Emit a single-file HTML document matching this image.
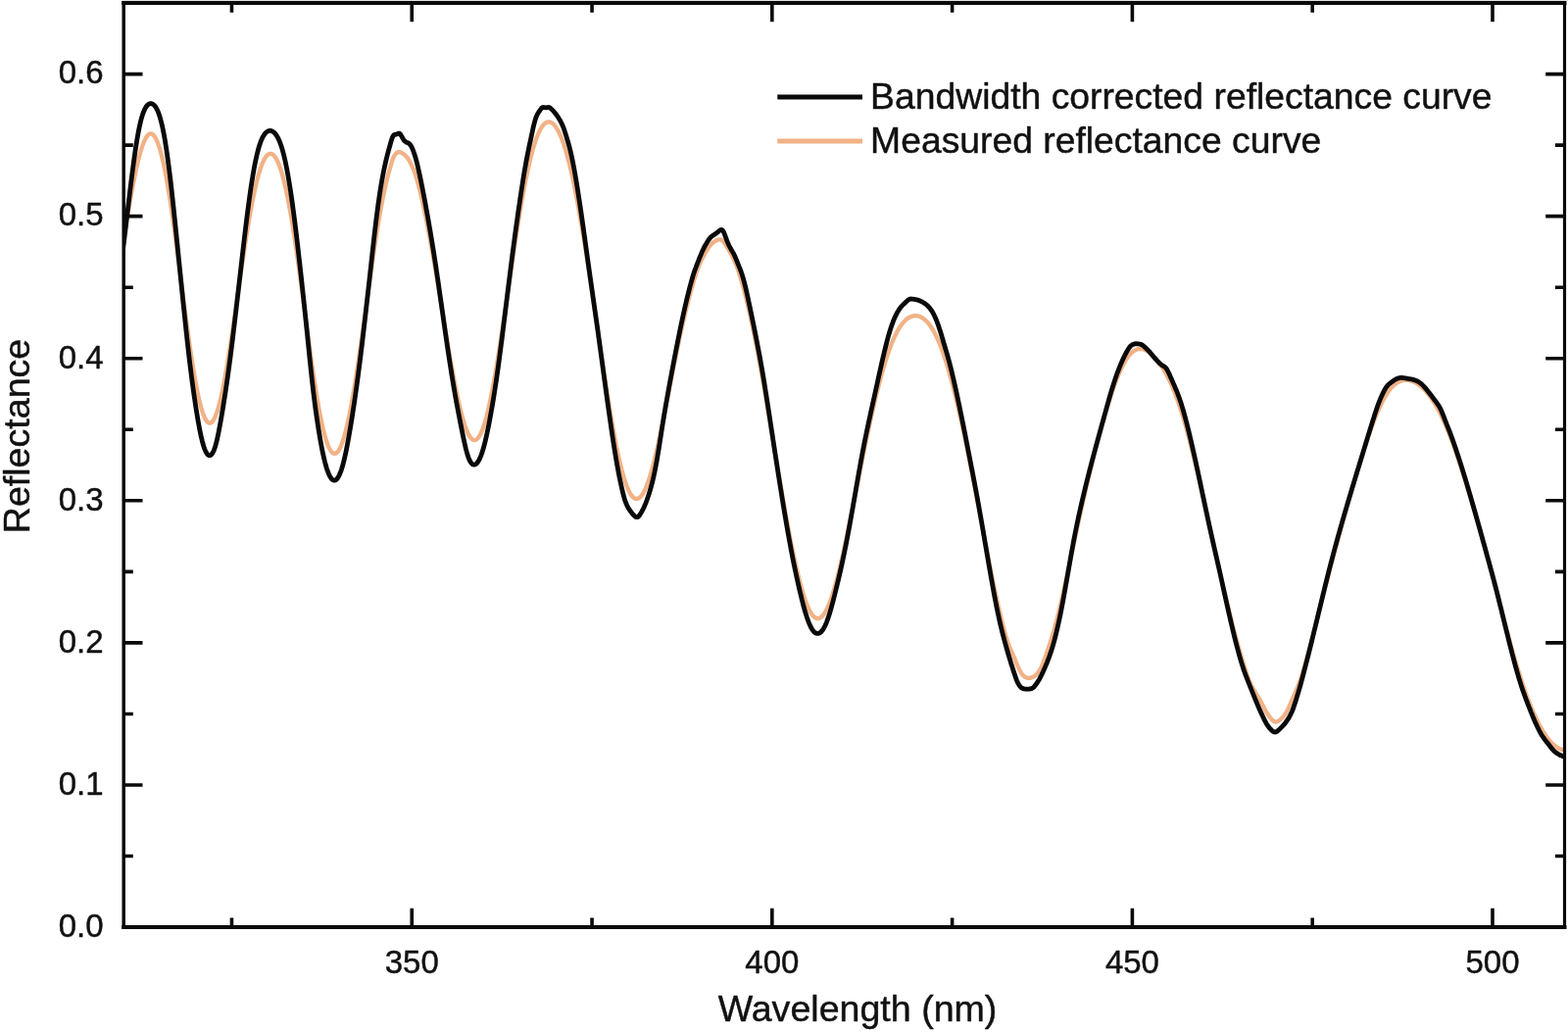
<!DOCTYPE html>
<html lang="en"><head><meta charset="utf-8"><title>Reflectance curves</title>
<style>
html,body{margin:0;padding:0;background:#fff;}
body{width:1600px;height:1053px;overflow:hidden;}
svg{display:block;}
text{font-family:"Liberation Sans",Arial,Helvetica,sans-serif;fill:#111;stroke:#111;stroke-width:0.45px;stroke-linejoin:round;}
.tick{font-size:33px;}
.title{font-size:37.6px;}
.leg{font-size:37.3px;}
</style></head><body>
<svg width="1600" height="1053" viewBox="0 0 1600 1053" role="img" aria-label="Reflectance versus wavelength">

<defs><clipPath id="plot"><rect x="126.2" y="3.05" width="1470.3" height="943.0"/></clipPath>
<filter id="soft" x="0" y="0" width="1600" height="1053" filterUnits="userSpaceOnUse" color-interpolation-filters="sRGB"><feGaussianBlur stdDeviation="0.45"/></filter></defs>
<g filter="url(#soft)">
<rect width="1600" height="1053" fill="#fff"/>
<g clip-path="url(#plot)" fill="none" stroke-linejoin="round" stroke-linecap="butt">
<path d="M118.3,285.0 L118.8,282.6 L119.3,280.2 L119.8,277.7 L120.3,275.2 L120.8,272.7 L121.3,270.1 L121.8,267.4 L122.3,264.7 L122.8,262.0 L123.3,259.3 L123.8,256.5 L124.3,253.7 L124.8,250.8 L125.3,248.0 L125.8,245.1 L126.3,242.2 L126.8,239.3 L127.3,236.4 L127.8,233.5 L128.3,230.6 L128.8,227.7 L129.3,224.7 L129.8,221.8 L130.3,218.9 L130.8,216.0 L131.3,213.2 L131.8,210.3 L132.3,207.5 L132.8,204.6 L133.3,201.9 L133.8,199.1 L134.3,196.4 L134.8,193.7 L135.3,191.0 L135.8,188.4 L136.3,185.8 L136.8,183.3 L137.3,180.8 L137.8,178.3 L138.3,176.0 L138.8,173.6 L139.3,171.3 L139.8,169.1 L140.3,166.9 L140.8,164.8 L141.3,162.8 L141.8,160.8 L142.3,158.9 L142.8,157.1 L143.3,155.3 L143.8,153.6 L144.3,152.0 L144.8,150.4 L145.3,148.9 L145.8,147.5 L146.3,146.2 L146.8,145.0 L147.3,143.8 L147.8,142.7 L148.3,141.7 L148.8,140.8 L149.3,140.0 L149.8,139.2 L150.3,138.6 L150.8,138.0 L151.3,137.5 L151.8,137.1 L152.3,136.8 L152.8,136.6 L153.3,136.4 L153.8,136.4 L154.3,136.5 L154.8,136.6 L155.3,136.8 L155.8,137.1 L156.3,137.6 L156.8,138.1 L157.3,138.7 L157.8,139.3 L158.3,140.1 L158.8,141.0 L159.3,141.9 L159.8,143.0 L160.3,144.1 L160.8,145.4 L161.3,146.7 L161.8,148.1 L162.3,149.6 L162.8,151.1 L163.3,152.8 L163.8,154.5 L164.3,156.4 L164.8,158.3 L165.3,160.3 L165.8,162.4 L166.3,164.5 L166.8,166.8 L167.3,169.1 L167.8,171.5 L168.3,174.0 L168.8,176.5 L169.3,179.1 L169.8,181.8 L170.3,184.6 L170.8,187.4 L171.3,190.3 L171.8,193.3 L172.3,196.3 L172.8,199.4 L173.3,202.6 L173.8,205.8 L174.3,209.0 L174.8,212.4 L175.3,215.7 L175.8,219.2 L176.3,222.6 L176.8,226.2 L177.3,229.7 L177.8,233.3 L178.3,236.9 L178.8,240.6 L179.3,244.3 L179.8,248.1 L180.3,251.8 L180.8,255.6 L181.3,259.4 L181.8,263.3 L182.3,267.1 L182.8,271.0 L183.3,274.8 L183.8,278.7 L184.3,282.6 L184.8,286.5 L185.3,290.4 L185.8,294.3 L186.3,298.2 L186.8,302.0 L187.3,305.9 L187.8,309.8 L188.3,313.6 L188.8,317.4 L189.3,321.2 L189.8,325.0 L190.3,328.7 L190.8,332.4 L191.3,336.1 L191.8,339.7 L192.3,343.3 L192.8,346.9 L193.3,350.4 L193.8,353.9 L194.3,357.3 L194.8,360.7 L195.3,364.0 L195.8,367.3 L196.3,370.5 L196.8,373.6 L197.3,376.7 L197.8,379.7 L198.3,382.7 L198.8,385.6 L199.3,388.4 L199.8,391.2 L200.3,393.8 L200.8,396.4 L201.3,398.9 L201.8,401.4 L202.3,403.7 L202.8,406.0 L203.3,408.2 L203.8,410.3 L204.3,412.3 L204.8,414.2 L205.3,416.0 L205.8,417.7 L206.3,419.4 L206.8,420.9 L207.3,422.3 L207.8,423.7 L208.3,424.9 L208.8,426.1 L209.3,427.1 L209.8,428.0 L210.3,428.8 L210.8,429.6 L211.3,430.2 L211.8,430.7 L212.3,431.1 L212.8,431.4 L213.3,431.6 L213.8,431.7 L214.3,431.7 L214.8,431.6 L215.3,431.3 L215.8,431.0 L216.3,430.6 L216.8,430.0 L217.3,429.4 L217.8,428.6 L218.3,427.8 L218.8,426.9 L219.3,425.8 L219.8,424.7 L220.3,423.4 L220.8,422.1 L221.3,420.7 L221.8,419.2 L222.3,417.6 L222.8,415.9 L223.3,414.1 L223.8,412.2 L224.3,410.3 L224.8,408.3 L225.3,406.2 L225.8,404.0 L226.3,401.7 L226.8,399.4 L227.3,397.0 L227.8,394.5 L228.3,392.0 L228.8,389.4 L229.3,386.8 L229.8,384.0 L230.3,381.2 L230.8,378.4 L231.3,375.5 L231.8,372.6 L232.3,369.6 L232.8,366.5 L233.3,363.5 L233.8,360.3 L234.3,357.2 L234.8,354.0 L235.3,350.7 L235.8,347.4 L236.3,344.1 L236.8,340.8 L237.3,337.4 L237.8,334.0 L238.3,330.6 L238.8,327.2 L239.3,323.7 L239.8,320.3 L240.3,316.8 L240.8,313.3 L241.3,309.8 L241.8,306.3 L242.3,302.8 L242.8,299.3 L243.3,295.8 L243.8,292.3 L244.3,288.8 L244.8,285.3 L245.3,281.8 L245.8,278.4 L246.3,274.9 L246.8,271.5 L247.3,268.1 L247.8,264.7 L248.3,261.3 L248.8,257.9 L249.3,254.6 L249.8,251.3 L250.3,248.1 L250.8,244.9 L251.3,241.7 L251.8,238.5 L252.3,235.4 L252.8,232.4 L253.3,229.3 L253.8,226.4 L254.3,223.4 L254.8,220.6 L255.3,217.7 L255.8,214.9 L256.3,212.2 L256.8,209.5 L257.3,206.9 L257.8,204.4 L258.3,201.9 L258.8,199.4 L259.3,197.0 L259.8,194.7 L260.3,192.5 L260.8,190.3 L261.3,188.1 L261.8,186.1 L262.3,184.1 L262.8,182.1 L263.3,180.3 L263.8,178.5 L264.3,176.7 L264.8,175.1 L265.3,173.5 L265.8,172.0 L266.3,170.5 L266.8,169.1 L267.3,167.8 L267.8,166.6 L268.3,165.4 L268.8,164.3 L269.3,163.3 L269.8,162.4 L270.3,161.5 L270.8,160.7 L271.3,160.0 L271.8,159.3 L272.3,158.8 L272.8,158.3 L273.3,157.8 L273.8,157.5 L274.3,157.2 L274.8,157.0 L275.3,156.9 L275.8,156.8 L276.3,156.8 L276.8,156.9 L277.3,157.1 L277.8,157.3 L278.3,157.6 L278.8,158.0 L279.3,158.5 L279.8,159.0 L280.3,159.6 L280.8,160.3 L281.3,161.1 L281.8,161.9 L282.3,162.8 L282.8,163.8 L283.3,164.8 L283.8,165.9 L284.3,167.1 L284.8,168.4 L285.3,169.7 L285.8,171.2 L286.3,172.6 L286.8,174.2 L287.3,175.8 L287.8,177.5 L288.3,179.3 L288.8,181.1 L289.3,183.0 L289.8,185.0 L290.3,187.0 L290.8,189.1 L291.3,191.3 L291.8,193.5 L292.3,195.9 L292.8,198.2 L293.3,200.7 L293.8,203.2 L294.3,205.7 L294.8,208.4 L295.3,211.0 L295.8,213.8 L296.3,216.6 L296.8,219.5 L297.3,222.4 L297.8,225.4 L298.3,228.4 L298.8,231.5 L299.3,234.6 L299.8,237.8 L300.3,241.0 L300.8,244.3 L301.3,247.6 L301.8,251.0 L302.3,254.4 L302.8,257.8 L303.3,261.3 L303.8,264.8 L304.3,268.4 L304.8,272.0 L305.3,275.6 L305.8,279.2 L306.3,282.9 L306.8,286.6 L307.3,290.3 L307.8,294.0 L308.3,297.7 L308.8,301.5 L309.3,305.3 L309.8,309.0 L310.3,312.8 L310.8,316.6 L311.3,320.4 L311.8,324.1 L312.3,327.9 L312.8,331.7 L313.3,335.4 L313.8,339.1 L314.3,342.9 L314.8,346.6 L315.3,350.3 L315.8,353.9 L316.3,357.6 L316.8,361.2 L317.3,364.8 L317.8,368.3 L318.3,371.8 L318.8,375.3 L319.3,378.7 L319.8,382.1 L320.3,385.5 L320.8,388.8 L321.3,392.0 L321.8,395.2 L322.3,398.4 L322.8,401.5 L323.3,404.5 L323.8,407.5 L324.3,410.4 L324.8,413.3 L325.3,416.0 L325.8,418.8 L326.3,421.4 L326.8,424.0 L327.3,426.5 L327.8,429.0 L328.3,431.3 L328.8,433.6 L329.3,435.8 L329.8,437.9 L330.3,440.0 L330.8,442.0 L331.3,443.9 L331.8,445.7 L332.3,447.4 L332.8,449.0 L333.3,450.5 L333.8,452.0 L334.3,453.4 L334.8,454.6 L335.3,455.8 L335.8,456.9 L336.3,457.9 L336.8,458.8 L337.3,459.6 L337.8,460.4 L338.3,461.0 L338.8,461.5 L339.3,462.0 L339.8,462.3 L340.3,462.6 L340.8,462.7 L341.3,462.8 L341.8,462.8 L342.3,462.7 L342.8,462.4 L343.3,462.1 L343.8,461.7 L344.3,461.2 L344.8,460.7 L345.3,460.0 L345.8,459.2 L346.3,458.4 L346.8,457.4 L347.3,456.4 L347.8,455.3 L348.3,454.1 L348.8,452.8 L349.3,451.4 L349.8,450.0 L350.3,448.5 L350.8,446.8 L351.3,445.2 L351.8,443.4 L352.3,441.5 L352.8,439.6 L353.3,437.6 L353.8,435.6 L354.3,433.4 L354.8,431.2 L355.3,429.0 L355.8,426.6 L356.3,424.2 L356.8,421.7 L357.3,419.2 L357.8,416.6 L358.3,414.0 L358.8,411.3 L359.3,408.5 L359.8,405.7 L360.3,402.8 L360.8,399.9 L361.3,396.9 L361.8,393.9 L362.3,390.8 L362.8,387.7 L363.3,384.5 L363.8,381.3 L364.3,378.1 L364.8,374.8 L365.3,371.5 L365.8,368.1 L366.3,364.8 L366.8,361.4 L367.3,357.9 L367.8,354.5 L368.3,351.0 L368.8,347.4 L369.3,343.9 L369.8,340.4 L370.3,336.8 L370.8,333.2 L371.3,329.6 L371.8,326.0 L372.3,322.4 L372.8,318.8 L373.3,315.1 L373.8,311.5 L374.3,307.9 L374.8,304.2 L375.3,300.6 L375.8,297.0 L376.3,293.4 L376.8,289.8 L377.3,286.2 L377.8,282.6 L378.3,279.1 L378.8,275.6 L379.3,272.0 L379.8,268.5 L380.3,265.1 L380.8,261.6 L381.3,258.2 L381.8,254.9 L382.3,251.5 L382.8,248.2 L383.3,244.9 L383.8,241.7 L384.3,238.5 L384.8,235.4 L385.3,232.3 L385.8,229.2 L386.3,226.2 L386.8,223.2 L387.3,220.3 L387.8,217.5 L388.3,214.7 L388.8,211.9 L389.3,209.2 L389.8,206.6 L390.3,204.0 L390.8,201.5 L391.3,199.0 L391.8,196.6 L392.3,194.3 L392.8,192.0 L393.3,189.8 L393.8,187.6 L394.3,185.5 L394.8,183.5 L395.3,181.5 L395.8,179.6 L396.3,177.6 L396.8,175.8 L397.3,173.9 L397.8,172.1 L398.3,170.3 L398.8,168.6 L399.3,166.9 L399.8,165.3 L400.3,163.8 L400.8,162.4 L401.3,161.2 L401.8,160.0 L402.3,159.0 L402.8,158.2 L403.3,157.5 L403.8,156.9 L404.3,156.4 L404.8,156.0 L405.3,155.7 L405.8,155.4 L406.3,155.2 L406.8,155.1 L407.3,155.1 L407.8,155.1 L408.3,155.2 L408.8,155.4 L409.3,155.6 L409.8,155.9 L410.3,156.2 L410.8,156.5 L411.3,156.9 L411.8,157.2 L412.3,157.6 L412.8,158.0 L413.3,158.5 L413.8,158.9 L414.3,159.4 L414.8,159.9 L415.3,160.5 L415.8,161.1 L416.3,161.8 L416.8,162.5 L417.3,163.4 L417.8,164.3 L418.3,165.2 L418.8,166.2 L419.3,167.2 L419.8,168.2 L420.3,169.3 L420.8,170.4 L421.3,171.6 L421.8,172.7 L422.3,174.0 L422.8,175.3 L423.3,176.7 L423.8,178.1 L424.3,179.6 L424.8,181.2 L425.3,182.8 L425.8,184.6 L426.3,186.3 L426.8,188.1 L427.3,190.0 L427.8,191.9 L428.3,193.8 L428.8,195.8 L429.3,197.9 L429.8,199.9 L430.3,202.1 L430.8,204.2 L431.3,206.4 L431.8,208.7 L432.3,210.9 L432.8,213.3 L433.3,215.6 L433.8,218.0 L434.3,220.4 L434.8,222.9 L435.3,225.4 L435.8,227.9 L436.3,230.5 L436.8,233.1 L437.3,235.7 L437.8,238.3 L438.3,241.0 L438.8,243.7 L439.3,246.4 L439.8,249.2 L440.3,252.0 L440.8,254.8 L441.3,257.6 L441.8,260.5 L442.3,263.4 L442.8,266.2 L443.3,269.2 L443.8,272.1 L444.3,275.0 L444.8,278.0 L445.3,281.0 L445.8,284.0 L446.3,287.0 L446.8,290.0 L447.3,293.0 L447.8,296.0 L448.3,299.1 L448.8,302.1 L449.3,305.2 L449.8,308.2 L450.3,311.3 L450.8,314.3 L451.3,317.4 L451.8,320.4 L452.3,323.5 L452.8,326.5 L453.3,329.6 L453.8,332.6 L454.3,335.6 L454.8,338.7 L455.3,341.7 L455.8,344.7 L456.3,347.6 L456.8,350.6 L457.3,353.6 L457.8,356.5 L458.3,359.4 L458.8,362.3 L459.3,365.2 L459.8,368.0 L460.3,370.8 L460.8,373.6 L461.3,376.4 L461.8,379.1 L462.3,381.9 L462.8,384.5 L463.3,387.2 L463.8,389.8 L464.3,392.4 L464.8,394.9 L465.3,397.4 L465.8,399.9 L466.3,402.3 L466.8,404.6 L467.3,407.0 L467.8,409.2 L468.3,411.5 L468.8,413.6 L469.3,415.8 L469.8,417.8 L470.3,419.9 L470.8,421.8 L471.3,423.7 L471.8,425.6 L472.3,427.4 L472.8,429.1 L473.3,430.7 L473.8,432.3 L474.3,433.9 L474.8,435.3 L475.3,436.7 L475.8,438.1 L476.3,439.3 L476.8,440.5 L477.3,441.6 L477.8,442.7 L478.3,443.6 L478.8,444.5 L479.3,445.3 L479.8,446.1 L480.3,446.7 L480.8,447.3 L481.3,447.8 L481.8,448.2 L482.3,448.6 L482.8,448.8 L483.3,449.0 L483.8,449.1 L484.3,449.1 L484.8,449.0 L485.3,448.9 L485.8,448.6 L486.3,448.3 L486.8,447.9 L487.3,447.5 L487.8,446.9 L488.3,446.3 L488.8,445.5 L489.3,444.7 L489.8,443.9 L490.3,442.9 L490.8,441.9 L491.3,440.7 L491.8,439.5 L492.3,438.3 L492.8,436.9 L493.3,435.5 L493.8,434.0 L494.3,432.4 L494.8,430.8 L495.3,429.1 L495.8,427.3 L496.3,425.5 L496.8,423.5 L497.3,421.6 L497.8,419.5 L498.3,417.4 L498.8,415.2 L499.3,413.0 L499.8,410.7 L500.3,408.3 L500.8,405.9 L501.3,403.4 L501.8,400.9 L502.3,398.3 L502.8,395.7 L503.3,393.0 L503.8,390.3 L504.3,387.5 L504.8,384.7 L505.3,381.9 L505.8,378.9 L506.3,376.0 L506.8,373.0 L507.3,370.0 L507.8,366.9 L508.3,363.8 L508.8,360.7 L509.3,357.5 L509.8,354.4 L510.3,351.1 L510.8,347.9 L511.3,344.6 L511.8,341.3 L512.3,338.0 L512.8,334.7 L513.3,331.3 L513.8,328.0 L514.3,324.6 L514.8,321.2 L515.3,317.8 L515.8,314.4 L516.3,310.9 L516.8,307.5 L517.3,304.1 L517.8,300.6 L518.3,297.2 L518.8,293.7 L519.3,290.3 L519.8,286.8 L520.3,283.4 L520.8,280.0 L521.3,276.6 L521.8,273.1 L522.3,269.8 L522.8,266.4 L523.3,263.0 L523.8,259.6 L524.3,256.3 L524.8,253.0 L525.3,249.7 L525.8,246.4 L526.3,243.1 L526.8,239.9 L527.3,236.7 L527.8,233.5 L528.3,230.3 L528.8,227.2 L529.3,224.1 L529.8,221.1 L530.3,218.0 L530.8,215.0 L531.3,212.1 L531.8,209.1 L532.3,206.3 L532.8,203.4 L533.3,200.6 L533.8,197.8 L534.3,195.1 L534.8,192.4 L535.3,189.8 L535.8,187.2 L536.3,184.6 L536.8,182.1 L537.3,179.7 L537.8,177.3 L538.3,174.9 L538.8,172.6 L539.3,170.3 L539.8,168.1 L540.3,166.0 L540.8,163.9 L541.3,161.8 L541.8,159.8 L542.3,157.9 L542.8,156.0 L543.3,154.1 L543.8,152.3 L544.3,150.6 L544.8,148.9 L545.3,147.3 L545.8,145.7 L546.3,144.2 L546.8,142.8 L547.3,141.4 L547.8,140.0 L548.3,138.8 L548.8,137.5 L549.3,136.4 L549.8,135.2 L550.3,134.2 L550.8,133.2 L551.3,132.2 L551.8,131.3 L552.3,130.5 L552.8,129.7 L553.3,129.0 L553.8,128.3 L554.3,127.7 L554.8,127.1 L555.3,126.6 L555.8,126.2 L556.3,125.8 L556.8,125.4 L557.3,125.1 L557.8,124.9 L558.3,124.7 L558.8,124.5 L559.3,124.4 L559.8,124.4 L560.3,124.4 L560.8,124.5 L561.3,124.6 L561.8,124.8 L562.3,125.0 L562.8,125.2 L563.3,125.5 L563.8,125.9 L564.3,126.3 L564.8,126.8 L565.3,127.3 L565.8,127.8 L566.3,128.4 L566.8,129.1 L567.3,129.8 L567.8,130.5 L568.3,131.3 L568.8,132.2 L569.3,133.1 L569.8,134.0 L570.3,135.0 L570.8,136.0 L571.3,137.1 L571.8,138.2 L572.3,139.4 L572.8,140.6 L573.3,141.9 L573.8,143.2 L574.3,144.6 L574.8,146.0 L575.3,147.4 L575.8,148.9 L576.3,150.5 L576.8,152.1 L577.3,153.7 L577.8,155.4 L578.3,157.1 L578.8,158.9 L579.3,160.7 L579.8,162.6 L580.3,164.5 L580.8,166.5 L581.3,168.5 L581.8,170.5 L582.3,172.6 L582.8,174.8 L583.3,176.9 L583.8,179.2 L584.3,181.4 L584.8,183.7 L585.3,186.1 L585.8,188.5 L586.3,190.9 L586.8,193.4 L587.3,195.9 L587.8,198.5 L588.3,201.1 L588.8,203.7 L589.3,206.4 L589.8,209.1 L590.3,211.8 L590.8,214.6 L591.3,217.4 L591.8,220.2 L592.3,223.1 L592.8,226.0 L593.3,228.9 L593.8,231.9 L594.3,234.9 L594.8,237.9 L595.3,241.0 L595.8,244.0 L596.3,247.1 L596.8,250.2 L597.3,253.4 L597.8,256.6 L598.3,259.7 L598.8,263.0 L599.3,266.2 L599.8,269.4 L600.3,272.7 L600.8,276.0 L601.3,279.3 L601.8,282.6 L602.3,285.9 L602.8,289.2 L603.3,292.6 L603.8,295.9 L604.3,299.3 L604.8,302.7 L605.3,306.1 L605.8,309.5 L606.3,312.9 L606.8,316.3 L607.3,319.7 L607.8,323.1 L608.3,326.5 L608.8,329.9 L609.3,333.3 L609.8,336.7 L610.3,340.1 L610.8,343.5 L611.3,346.9 L611.8,350.3 L612.3,353.7 L612.8,357.1 L613.3,360.5 L613.8,363.8 L614.3,367.2 L614.8,370.5 L615.3,373.8 L615.8,377.1 L616.3,380.4 L616.8,383.7 L617.3,387.0 L617.8,390.2 L618.3,393.4 L618.8,396.6 L619.3,399.8 L619.8,403.0 L620.3,406.1 L620.8,409.2 L621.3,412.3 L621.8,415.3 L622.3,418.4 L622.8,421.4 L623.3,424.3 L623.8,427.2 L624.3,430.1 L624.8,433.0 L625.3,435.8 L625.8,438.6 L626.3,441.3 L626.8,444.0 L627.3,446.7 L627.8,449.3 L628.3,451.8 L628.8,454.4 L629.3,456.9 L629.8,459.3 L630.3,461.7 L630.8,464.0 L631.3,466.3 L631.8,468.5 L632.3,470.7 L632.8,472.8 L633.3,474.9 L633.8,476.9 L634.3,478.9 L634.8,480.8 L635.3,482.6 L635.8,484.4 L636.3,486.1 L636.8,487.8 L637.3,489.4 L637.8,491.0 L638.3,492.5 L638.8,493.9 L639.3,495.3 L639.8,496.6 L640.3,497.8 L640.8,499.0 L641.3,500.1 L641.8,501.1 L642.3,502.1 L642.8,503.0 L643.3,503.9 L643.8,504.7 L644.3,505.4 L644.8,506.0 L645.3,506.6 L645.8,507.2 L646.3,507.6 L646.8,508.0 L647.3,508.3 L647.8,508.6 L648.3,508.8 L648.8,508.9 L649.3,509.0 L649.8,509.0 L650.3,508.9 L650.8,508.8 L651.3,508.6 L651.8,508.4 L652.3,508.0 L652.8,507.6 L653.3,507.2 L653.8,506.7 L654.3,506.1 L654.8,505.5 L655.3,504.8 L655.8,504.0 L656.3,503.2 L656.8,502.3 L657.3,501.4 L657.8,500.4 L658.3,499.3 L658.8,498.2 L659.3,497.0 L659.8,495.8 L660.3,494.5 L660.8,493.2 L661.3,491.8 L661.8,490.4 L662.3,488.9 L662.8,487.3 L663.3,485.7 L663.8,484.1 L664.3,482.4 L664.8,480.7 L665.3,478.9 L665.8,477.1 L666.3,475.2 L666.8,473.3 L667.3,471.3 L667.8,469.4 L668.3,467.3 L668.8,465.3 L669.3,463.2 L669.8,461.0 L670.3,458.8 L670.8,456.6 L671.3,454.4 L671.8,452.2 L672.3,449.9 L672.8,447.5 L673.3,445.2 L673.8,442.8 L674.3,440.5 L674.8,438.1 L675.3,435.6 L675.8,433.2 L676.3,430.7 L676.8,428.2 L677.3,425.8 L677.8,423.3 L678.3,420.7 L678.8,418.2 L679.3,415.7 L679.8,413.1 L680.3,410.6 L680.8,408.0 L681.3,405.5 L681.8,402.9 L682.3,400.4 L682.8,397.8 L683.3,395.3 L683.8,392.7 L684.3,390.1 L684.8,387.6 L685.3,385.1 L685.8,382.5 L686.3,380.0 L686.8,377.5 L687.3,374.9 L687.8,372.4 L688.3,369.9 L688.8,367.5 L689.3,365.0 L689.8,362.5 L690.3,360.1 L690.8,357.7 L691.3,355.2 L691.8,352.8 L692.3,350.5 L692.8,348.1 L693.3,345.7 L693.8,343.4 L694.3,341.1 L694.8,338.8 L695.3,336.5 L695.8,334.3 L696.3,332.0 L696.8,329.8 L697.3,327.6 L697.8,325.4 L698.3,323.3 L698.8,321.2 L699.3,319.1 L699.8,317.0 L700.3,314.9 L700.8,312.9 L701.3,310.9 L701.8,308.9 L702.3,306.9 L702.8,305.0 L703.3,303.1 L703.8,301.2 L704.3,299.3 L704.8,297.5 L705.3,295.7 L705.8,293.9 L706.3,292.1 L706.8,290.4 L707.3,288.7 L707.8,287.0 L708.3,285.4 L708.8,283.8 L709.3,282.2 L709.8,280.6 L710.3,279.1 L710.8,277.6 L711.3,276.2 L711.8,274.8 L712.3,273.4 L712.8,272.1 L713.3,270.9 L713.8,269.7 L714.3,268.5 L714.8,267.4 L715.3,266.4 L715.8,265.4 L716.3,264.4 L716.8,263.4 L717.3,262.5 L717.8,261.6 L718.3,260.7 L718.8,259.7 L719.3,258.8 L719.8,257.9 L720.3,257.0 L720.8,256.1 L721.3,255.3 L721.8,254.4 L722.3,253.6 L722.8,252.8 L723.3,252.1 L723.8,251.5 L724.3,250.8 L724.8,250.2 L725.3,249.7 L725.8,249.2 L726.3,248.7 L726.8,248.2 L727.3,247.8 L727.8,247.4 L728.3,247.0 L728.8,246.7 L729.3,246.4 L729.8,246.1 L730.3,245.8 L730.8,245.5 L731.3,245.2 L731.8,245.0 L732.3,244.8 L732.8,244.6 L733.3,244.5 L733.8,244.4 L734.3,244.3 L734.8,244.3 L735.3,244.4 L735.8,244.6 L736.3,244.8 L736.8,245.2 L737.3,245.6 L737.8,246.1 L738.3,246.7 L738.8,247.4 L739.3,248.1 L739.8,248.8 L740.3,249.6 L740.8,250.4 L741.3,251.2 L741.8,252.0 L742.3,252.8 L742.8,253.6 L743.3,254.5 L743.8,255.3 L744.3,256.2 L744.8,257.1 L745.3,258.0 L745.8,258.9 L746.3,259.8 L746.8,260.7 L747.3,261.7 L747.8,262.7 L748.3,263.7 L748.8,264.7 L749.3,265.8 L749.8,266.9 L750.3,268.1 L750.8,269.3 L751.3,270.6 L751.8,271.9 L752.3,273.2 L752.8,274.6 L753.3,276.0 L753.8,277.5 L754.3,279.1 L754.8,280.6 L755.3,282.3 L755.8,283.9 L756.3,285.6 L756.8,287.3 L757.3,289.1 L757.8,290.8 L758.3,292.7 L758.8,294.5 L759.3,296.4 L759.8,298.3 L760.3,300.2 L760.8,302.2 L761.3,304.2 L761.8,306.2 L762.3,308.3 L762.8,310.3 L763.3,312.5 L763.8,314.6 L764.3,316.8 L764.8,319.0 L765.3,321.2 L765.8,323.4 L766.3,325.7 L766.8,328.0 L767.3,330.3 L767.8,332.7 L768.3,335.1 L768.8,337.5 L769.3,339.9 L769.8,342.4 L770.3,344.8 L770.8,347.3 L771.3,349.9 L771.8,352.4 L772.3,355.0 L772.8,357.6 L773.3,360.2 L773.8,362.8 L774.3,365.5 L774.8,368.2 L775.3,370.9 L775.8,373.6 L776.3,376.3 L776.8,379.1 L777.3,381.9 L777.8,384.7 L778.3,387.5 L778.8,390.3 L779.3,393.1 L779.8,396.0 L780.3,398.8 L780.8,401.7 L781.3,404.6 L781.8,407.5 L782.3,410.4 L782.8,413.4 L783.3,416.3 L783.8,419.2 L784.3,422.2 L784.8,425.2 L785.3,428.1 L785.8,431.1 L786.3,434.1 L786.8,437.1 L787.3,440.1 L787.8,443.1 L788.3,446.1 L788.8,449.1 L789.3,452.1 L789.8,455.1 L790.3,458.1 L790.8,461.1 L791.3,464.1 L791.8,467.1 L792.3,470.1 L792.8,473.0 L793.3,476.0 L793.8,479.0 L794.3,482.0 L794.8,484.9 L795.3,487.9 L795.8,490.8 L796.3,493.8 L796.8,496.7 L797.3,499.6 L797.8,502.5 L798.3,505.4 L798.8,508.3 L799.3,511.1 L799.8,514.0 L800.3,516.8 L800.8,519.6 L801.3,522.4 L801.8,525.2 L802.3,528.0 L802.8,530.7 L803.3,533.4 L803.8,536.1 L804.3,538.8 L804.8,541.5 L805.3,544.1 L805.8,546.7 L806.3,549.3 L806.8,551.8 L807.3,554.4 L807.8,556.9 L808.3,559.3 L808.8,561.8 L809.3,564.2 L809.8,566.6 L810.3,568.9 L810.8,571.2 L811.3,573.5 L811.8,575.8 L812.3,578.0 L812.8,580.2 L813.3,582.3 L813.8,584.5 L814.3,586.5 L814.8,588.6 L815.3,590.6 L815.8,592.5 L816.3,594.5 L816.8,596.3 L817.3,598.2 L817.8,600.0 L818.3,601.7 L818.8,603.4 L819.3,605.1 L819.8,606.7 L820.3,608.3 L820.8,609.8 L821.3,611.3 L821.8,612.7 L822.3,614.1 L822.8,615.4 L823.3,616.7 L823.8,617.9 L824.3,619.1 L824.8,620.2 L825.3,621.3 L825.8,622.3 L826.3,623.3 L826.8,624.2 L827.3,625.0 L827.8,625.8 L828.3,626.6 L828.8,627.2 L829.3,627.9 L829.8,628.4 L830.3,629.0 L830.8,629.4 L831.3,629.8 L831.8,630.2 L832.3,630.4 L832.8,630.7 L833.3,630.8 L833.8,630.9 L834.3,631.0 L834.8,631.0 L835.3,630.9 L835.8,630.8 L836.3,630.6 L836.8,630.4 L837.3,630.1 L837.8,629.8 L838.3,629.3 L838.8,628.9 L839.3,628.4 L839.8,627.8 L840.3,627.2 L840.8,626.5 L841.3,625.7 L841.8,624.9 L842.3,624.1 L842.8,623.2 L843.3,622.3 L843.8,621.3 L844.3,620.2 L844.8,619.1 L845.3,618.0 L845.8,616.8 L846.3,615.5 L846.8,614.2 L847.3,612.9 L847.8,611.5 L848.3,610.1 L848.8,608.6 L849.3,607.1 L849.8,605.5 L850.3,603.9 L850.8,602.3 L851.3,600.6 L851.8,598.9 L852.3,597.2 L852.8,595.4 L853.3,593.5 L853.8,591.7 L854.3,589.8 L854.8,587.9 L855.3,585.9 L855.8,583.9 L856.3,581.9 L856.8,579.9 L857.3,577.8 L857.8,575.7 L858.3,573.5 L858.8,571.4 L859.3,569.2 L859.8,567.0 L860.3,564.8 L860.8,562.5 L861.3,560.3 L861.8,558.0 L862.3,555.6 L862.8,553.3 L863.3,551.0 L863.8,548.6 L864.3,546.2 L864.8,543.8 L865.3,541.4 L865.8,539.0 L866.3,536.6 L866.8,534.1 L867.3,531.7 L867.8,529.2 L868.3,526.7 L868.8,524.2 L869.3,521.7 L869.8,519.2 L870.3,516.7 L870.8,514.2 L871.3,511.7 L871.8,509.2 L872.3,506.7 L872.8,504.1 L873.3,501.6 L873.8,499.1 L874.3,496.6 L874.8,494.0 L875.3,491.5 L875.8,489.0 L876.3,486.5 L876.8,484.0 L877.3,481.5 L877.8,479.0 L878.3,476.5 L878.8,474.0 L879.3,471.5 L879.8,469.0 L880.3,466.6 L880.8,464.1 L881.3,461.7 L881.8,459.2 L882.3,456.8 L882.8,454.4 L883.3,452.0 L883.8,449.6 L884.3,447.2 L884.8,444.8 L885.3,442.5 L885.8,440.1 L886.3,437.8 L886.8,435.5 L887.3,433.2 L887.8,430.9 L888.3,428.6 L888.8,426.4 L889.3,424.1 L889.8,421.9 L890.3,419.7 L890.8,417.5 L891.3,415.3 L891.8,413.2 L892.3,411.0 L892.8,408.9 L893.3,406.8 L893.8,404.8 L894.3,402.7 L894.8,400.7 L895.3,398.7 L895.8,396.7 L896.3,394.7 L896.8,392.7 L897.3,390.8 L897.8,388.9 L898.3,387.0 L898.8,385.2 L899.3,383.3 L899.8,381.5 L900.3,379.7 L900.8,378.0 L901.3,376.2 L901.8,374.5 L902.3,372.8 L902.8,371.1 L903.3,369.5 L903.8,367.9 L904.3,366.3 L904.8,364.8 L905.3,363.2 L905.8,361.7 L906.3,360.3 L906.8,358.8 L907.3,357.4 L907.8,356.0 L908.3,354.7 L908.8,353.3 L909.3,352.0 L909.8,350.8 L910.3,349.5 L910.8,348.3 L911.3,347.1 L911.8,346.0 L912.3,344.9 L912.8,343.8 L913.3,342.7 L913.8,341.7 L914.3,340.7 L914.8,339.7 L915.3,338.7 L915.8,337.8 L916.3,336.9 L916.8,336.1 L917.3,335.2 L917.8,334.4 L918.3,333.6 L918.8,332.9 L919.3,332.2 L919.8,331.5 L920.3,330.8 L920.8,330.2 L921.3,329.6 L921.8,329.0 L922.3,328.4 L922.8,327.9 L923.3,327.4 L923.8,326.9 L924.3,326.4 L924.8,326.0 L925.3,325.6 L925.8,325.2 L926.3,324.9 L926.8,324.5 L927.3,324.2 L927.8,323.9 L928.3,323.7 L928.8,323.4 L929.3,323.2 L929.8,323.0 L930.3,322.8 L930.8,322.7 L931.3,322.5 L931.8,322.4 L932.3,322.3 L932.8,322.3 L933.3,322.2 L933.8,322.2 L934.3,322.2 L934.8,322.2 L935.3,322.3 L935.8,322.3 L936.3,322.4 L936.8,322.5 L937.3,322.6 L937.8,322.8 L938.3,323.0 L938.8,323.1 L939.3,323.4 L939.8,323.6 L940.3,323.9 L940.8,324.1 L941.3,324.4 L941.8,324.8 L942.3,325.1 L942.8,325.5 L943.3,325.9 L943.8,326.3 L944.3,326.7 L944.8,327.2 L945.3,327.7 L945.8,328.2 L946.3,328.8 L946.8,329.3 L947.3,329.9 L947.8,330.5 L948.3,331.2 L948.8,331.8 L949.3,332.5 L949.8,333.2 L950.3,334.0 L950.8,334.8 L951.3,335.6 L951.8,336.4 L952.3,337.2 L952.8,338.1 L953.3,339.0 L953.8,340.0 L954.3,340.9 L954.8,341.9 L955.3,342.9 L955.8,344.0 L956.3,345.0 L956.8,346.1 L957.3,347.3 L957.8,348.4 L958.3,349.6 L958.8,350.8 L959.3,352.1 L959.8,353.3 L960.3,354.6 L960.8,356.0 L961.3,357.3 L961.8,358.7 L962.3,360.1 L962.8,361.5 L963.3,363.0 L963.8,364.5 L964.3,366.0 L964.8,367.5 L965.3,369.1 L965.8,370.7 L966.3,372.3 L966.8,374.0 L967.3,375.6 L967.8,377.3 L968.3,379.1 L968.8,380.8 L969.3,382.6 L969.8,384.4 L970.3,386.2 L970.8,388.0 L971.3,389.9 L971.8,391.8 L972.3,393.7 L972.8,395.6 L973.3,397.6 L973.8,399.6 L974.3,401.6 L974.8,403.6 L975.3,405.6 L975.8,407.7 L976.3,409.8 L976.8,411.9 L977.3,414.0 L977.8,416.2 L978.3,418.3 L978.8,420.5 L979.3,422.7 L979.8,424.9 L980.3,427.1 L980.8,429.4 L981.3,431.7 L981.8,434.0 L982.3,436.3 L982.8,438.6 L983.3,440.9 L983.8,443.3 L984.3,445.6 L984.8,448.0 L985.3,450.4 L985.8,452.8 L986.3,455.2 L986.8,457.7 L987.3,460.1 L987.8,462.6 L988.3,465.0 L988.8,467.5 L989.3,470.0 L989.8,472.5 L990.3,475.0 L990.8,477.6 L991.3,480.1 L991.8,482.6 L992.3,485.2 L992.8,487.8 L993.3,490.3 L993.8,492.9 L994.3,495.5 L994.8,498.1 L995.3,500.7 L995.8,503.3 L996.3,505.9 L996.8,508.5 L997.3,511.1 L997.8,513.8 L998.3,516.4 L998.8,519.0 L999.3,521.7 L999.8,524.3 L1000.3,526.9 L1000.8,529.6 L1001.3,532.2 L1001.8,534.8 L1002.3,537.5 L1002.8,540.1 L1003.3,542.7 L1003.8,545.4 L1004.3,548.0 L1004.8,550.6 L1005.3,553.2 L1005.8,555.8 L1006.3,558.4 L1006.8,561.0 L1007.3,563.6 L1007.8,566.2 L1008.3,568.7 L1008.8,571.3 L1009.3,573.8 L1009.8,576.4 L1010.3,578.9 L1010.8,581.4 L1011.3,583.9 L1011.8,586.4 L1012.3,588.8 L1012.8,591.3 L1013.3,593.7 L1013.8,596.1 L1014.3,598.5 L1014.8,600.9 L1015.3,603.3 L1015.8,605.6 L1016.3,607.9 L1016.8,610.2 L1017.3,612.5 L1017.8,614.8 L1018.3,617.0 L1018.8,619.2 L1019.3,621.4 L1019.8,623.5 L1020.3,625.7 L1020.8,627.8 L1021.3,629.9 L1021.8,631.9 L1022.3,633.9 L1022.8,635.9 L1023.3,637.9 L1023.8,639.8 L1024.3,641.7 L1024.8,643.6 L1025.3,645.4 L1025.8,647.2 L1026.3,648.9 L1026.8,650.5 L1027.3,652.1 L1027.8,653.6 L1028.3,655.1 L1028.8,656.5 L1029.3,657.8 L1029.8,659.1 L1030.3,660.3 L1030.8,661.5 L1031.3,662.7 L1031.8,663.8 L1032.3,665.0 L1032.8,666.1 L1033.3,667.3 L1033.8,668.4 L1034.3,669.6 L1034.8,670.7 L1035.3,671.9 L1035.8,673.1 L1036.3,674.3 L1036.8,675.6 L1037.3,676.8 L1037.8,678.0 L1038.3,679.1 L1038.8,680.3 L1039.3,681.4 L1039.8,682.5 L1040.3,683.5 L1040.8,684.4 L1041.3,685.4 L1041.8,686.2 L1042.3,687.0 L1042.8,687.7 L1043.3,688.4 L1043.8,689.0 L1044.3,689.5 L1044.8,690.0 L1045.3,690.4 L1045.8,690.7 L1046.3,691.0 L1046.8,691.2 L1047.3,691.5 L1047.8,691.6 L1048.3,691.7 L1048.8,691.8 L1049.3,691.9 L1049.8,691.9 L1050.3,691.9 L1050.8,691.8 L1051.3,691.7 L1051.8,691.6 L1052.3,691.5 L1052.8,691.3 L1053.3,691.1 L1053.8,690.9 L1054.3,690.7 L1054.8,690.4 L1055.3,690.1 L1055.8,689.8 L1056.3,689.4 L1056.8,689.0 L1057.3,688.5 L1057.8,688.0 L1058.3,687.4 L1058.8,686.8 L1059.3,686.2 L1059.8,685.5 L1060.3,684.8 L1060.8,683.9 L1061.3,683.1 L1061.8,682.1 L1062.3,681.2 L1062.8,680.1 L1063.3,679.0 L1063.8,677.8 L1064.3,676.5 L1064.8,675.2 L1065.3,673.9 L1065.8,672.6 L1066.3,671.2 L1066.8,669.8 L1067.3,668.4 L1067.8,667.0 L1068.3,665.5 L1068.8,664.1 L1069.3,662.7 L1069.8,661.2 L1070.3,659.8 L1070.8,658.3 L1071.3,656.9 L1071.8,655.4 L1072.3,653.8 L1072.8,652.3 L1073.3,650.7 L1073.8,649.1 L1074.3,647.5 L1074.8,645.8 L1075.3,644.1 L1075.8,642.3 L1076.3,640.5 L1076.8,638.7 L1077.3,636.8 L1077.8,634.9 L1078.3,633.0 L1078.8,631.0 L1079.3,629.1 L1079.8,627.1 L1080.3,625.0 L1080.8,623.0 L1081.3,620.9 L1081.8,618.8 L1082.3,616.7 L1082.8,614.5 L1083.3,612.3 L1083.8,610.2 L1084.3,608.0 L1084.8,605.7 L1085.3,603.5 L1085.8,601.3 L1086.3,599.0 L1086.8,596.7 L1087.3,594.4 L1087.8,592.1 L1088.3,589.8 L1088.8,587.5 L1089.3,585.2 L1089.8,582.8 L1090.3,580.5 L1090.8,578.1 L1091.3,575.8 L1091.8,573.4 L1092.3,571.1 L1092.8,568.7 L1093.3,566.3 L1093.8,564.0 L1094.3,561.6 L1094.8,559.2 L1095.3,556.9 L1095.8,554.5 L1096.3,552.1 L1096.8,549.8 L1097.3,547.4 L1097.8,545.1 L1098.3,542.7 L1098.8,540.4 L1099.3,538.1 L1099.8,535.7 L1100.3,533.4 L1100.8,531.1 L1101.3,528.8 L1101.8,526.5 L1102.3,524.2 L1102.8,522.0 L1103.3,519.7 L1103.8,517.4 L1104.3,515.2 L1104.8,513.0 L1105.3,510.7 L1105.8,508.5 L1106.3,506.3 L1106.8,504.1 L1107.3,501.9 L1107.8,499.8 L1108.3,497.6 L1108.8,495.5 L1109.3,493.3 L1109.8,491.2 L1110.3,489.1 L1110.8,487.0 L1111.3,484.9 L1111.8,482.8 L1112.3,480.8 L1112.8,478.7 L1113.3,476.7 L1113.8,474.6 L1114.3,472.6 L1114.8,470.6 L1115.3,468.6 L1115.8,466.6 L1116.3,464.7 L1116.8,462.7 L1117.3,460.7 L1117.8,458.8 L1118.3,456.9 L1118.8,454.9 L1119.3,453.0 L1119.8,451.1 L1120.3,449.2 L1120.8,447.4 L1121.3,445.5 L1121.8,443.6 L1122.3,441.8 L1122.8,440.0 L1123.3,438.1 L1123.8,436.3 L1124.3,434.5 L1124.8,432.7 L1125.3,431.0 L1125.8,429.2 L1126.3,427.5 L1126.8,425.7 L1127.3,424.0 L1127.8,422.3 L1128.3,420.6 L1128.8,418.9 L1129.3,417.3 L1129.8,415.6 L1130.3,414.0 L1130.8,412.3 L1131.3,410.7 L1131.8,409.1 L1132.3,407.6 L1132.8,406.0 L1133.3,404.5 L1133.8,403.0 L1134.3,401.5 L1134.8,400.0 L1135.3,398.5 L1135.8,397.1 L1136.3,395.6 L1136.8,394.2 L1137.3,392.8 L1137.8,391.5 L1138.3,390.1 L1138.8,388.8 L1139.3,387.5 L1139.8,386.2 L1140.3,385.0 L1140.8,383.7 L1141.3,382.5 L1141.8,381.3 L1142.3,380.2 L1142.8,379.0 L1143.3,377.9 L1143.8,376.8 L1144.3,375.8 L1144.8,374.7 L1145.3,373.7 L1145.8,372.7 L1146.3,371.8 L1146.8,370.9 L1147.3,370.0 L1147.8,369.1 L1148.3,368.2 L1148.8,367.4 L1149.3,366.6 L1149.8,365.9 L1150.3,365.2 L1150.8,364.4 L1151.3,363.8 L1151.8,363.1 L1152.3,362.5 L1152.8,361.9 L1153.3,361.4 L1153.8,360.8 L1154.3,360.3 L1154.8,359.9 L1155.3,359.4 L1155.8,359.0 L1156.3,358.6 L1156.8,358.2 L1157.3,357.9 L1157.8,357.6 L1158.3,357.3 L1158.8,357.1 L1159.3,356.9 L1159.8,356.7 L1160.3,356.5 L1160.8,356.3 L1161.3,356.2 L1161.8,356.1 L1162.3,356.1 L1162.8,356.0 L1163.3,356.0 L1163.8,356.0 L1164.3,356.0 L1164.8,356.1 L1165.3,356.1 L1165.8,356.2 L1166.3,356.3 L1166.8,356.5 L1167.3,356.6 L1167.8,356.8 L1168.3,357.0 L1168.8,357.2 L1169.3,357.5 L1169.8,357.7 L1170.3,358.0 L1170.8,358.3 L1171.3,358.6 L1171.8,358.9 L1172.3,359.3 L1172.8,359.6 L1173.3,360.0 L1173.8,360.4 L1174.3,360.8 L1174.8,361.2 L1175.3,361.7 L1175.8,362.1 L1176.3,362.6 L1176.8,363.1 L1177.3,363.6 L1177.8,364.1 L1178.3,364.7 L1178.8,365.2 L1179.3,365.8 L1179.8,366.3 L1180.3,366.9 L1180.8,367.5 L1181.3,368.2 L1181.8,368.8 L1182.3,369.5 L1182.8,370.1 L1183.3,370.8 L1183.8,371.5 L1184.3,372.2 L1184.8,373.0 L1185.3,373.7 L1185.8,374.5 L1186.3,375.2 L1186.8,376.0 L1187.3,376.9 L1187.8,377.7 L1188.3,378.5 L1188.8,379.4 L1189.3,380.3 L1189.8,381.2 L1190.3,382.1 L1190.8,383.0 L1191.3,384.0 L1191.8,385.0 L1192.3,386.0 L1192.8,387.0 L1193.3,388.0 L1193.8,389.1 L1194.3,390.2 L1194.8,391.3 L1195.3,392.4 L1195.8,393.5 L1196.3,394.7 L1196.8,395.9 L1197.3,397.1 L1197.8,398.3 L1198.3,399.5 L1198.8,400.8 L1199.3,402.1 L1199.8,403.4 L1200.3,404.8 L1200.8,406.1 L1201.3,407.5 L1201.8,408.9 L1202.3,410.3 L1202.8,411.8 L1203.3,413.3 L1203.8,414.8 L1204.3,416.3 L1204.8,417.8 L1205.3,419.4 L1205.8,421.0 L1206.3,422.6 L1206.8,424.2 L1207.3,425.9 L1207.8,427.5 L1208.3,429.2 L1208.8,430.9 L1209.3,432.7 L1209.8,434.4 L1210.3,436.2 L1210.8,438.0 L1211.3,439.8 L1211.8,441.7 L1212.3,443.5 L1212.8,445.4 L1213.3,447.3 L1213.8,449.2 L1214.3,451.1 L1214.8,453.0 L1215.3,455.0 L1215.8,457.0 L1216.3,458.9 L1216.8,460.9 L1217.3,463.0 L1217.8,465.0 L1218.3,467.0 L1218.8,469.1 L1219.3,471.2 L1219.8,473.3 L1220.3,475.3 L1220.8,477.5 L1221.3,479.6 L1221.8,481.7 L1222.3,483.8 L1222.8,486.0 L1223.3,488.1 L1223.8,490.3 L1224.3,492.5 L1224.8,494.7 L1225.3,496.8 L1225.8,499.0 L1226.3,501.2 L1226.8,503.4 L1227.3,505.7 L1227.8,507.9 L1228.3,510.1 L1228.8,512.3 L1229.3,514.5 L1229.8,516.8 L1230.3,519.0 L1230.8,521.2 L1231.3,523.5 L1231.8,525.7 L1232.3,528.0 L1232.8,530.2 L1233.3,532.5 L1233.8,534.7 L1234.3,537.0 L1234.8,539.2 L1235.3,541.5 L1235.8,543.7 L1236.3,546.0 L1236.8,548.2 L1237.3,550.4 L1237.8,552.7 L1238.3,554.9 L1238.8,557.2 L1239.3,559.4 L1239.8,561.6 L1240.3,563.9 L1240.8,566.1 L1241.3,568.3 L1241.8,570.6 L1242.3,572.8 L1242.8,575.0 L1243.3,577.2 L1243.8,579.4 L1244.3,581.6 L1244.8,583.8 L1245.3,586.0 L1245.8,588.2 L1246.3,590.3 L1246.8,592.5 L1247.3,594.7 L1247.8,596.8 L1248.3,599.0 L1248.8,601.1 L1249.3,603.3 L1249.8,605.4 L1250.3,607.5 L1250.8,609.6 L1251.3,611.7 L1251.8,613.8 L1252.3,615.9 L1252.8,617.9 L1253.3,620.0 L1253.8,622.1 L1254.3,624.1 L1254.8,626.1 L1255.3,628.1 L1255.8,630.1 L1256.3,632.1 L1256.8,634.1 L1257.3,636.1 L1257.8,638.0 L1258.3,640.0 L1258.8,641.9 L1259.3,643.8 L1259.8,645.7 L1260.3,647.6 L1260.8,649.5 L1261.3,651.3 L1261.8,653.2 L1262.3,655.0 L1262.8,656.8 L1263.3,658.6 L1263.8,660.4 L1264.3,662.1 L1264.8,663.9 L1265.3,665.6 L1265.8,667.3 L1266.3,669.0 L1266.8,670.7 L1267.3,672.4 L1267.8,674.0 L1268.3,675.6 L1268.8,677.2 L1269.3,678.8 L1269.8,680.4 L1270.3,682.0 L1270.8,683.5 L1271.3,685.0 L1271.8,686.5 L1272.3,687.9 L1272.8,689.4 L1273.3,690.7 L1273.8,692.1 L1274.3,693.4 L1274.8,694.6 L1275.3,695.8 L1275.8,696.9 L1276.3,698.0 L1276.8,699.1 L1277.3,700.1 L1277.8,701.1 L1278.3,702.0 L1278.8,702.9 L1279.3,703.8 L1279.8,704.7 L1280.3,705.5 L1280.8,706.3 L1281.3,707.1 L1281.8,707.9 L1282.3,708.7 L1282.8,709.5 L1283.3,710.3 L1283.8,711.1 L1284.3,711.9 L1284.8,712.8 L1285.3,713.7 L1285.8,714.5 L1286.3,715.4 L1286.8,716.4 L1287.3,717.3 L1287.8,718.3 L1288.3,719.2 L1288.8,720.2 L1289.3,721.2 L1289.8,722.1 L1290.3,723.1 L1290.8,724.0 L1291.3,724.9 L1291.8,725.8 L1292.3,726.6 L1292.8,727.5 L1293.3,728.2 L1293.8,729.0 L1294.3,729.8 L1294.8,730.5 L1295.3,731.2 L1295.8,731.9 L1296.3,732.5 L1296.8,733.1 L1297.3,733.7 L1297.8,734.3 L1298.3,734.8 L1298.8,735.2 L1299.3,735.6 L1299.8,735.9 L1300.3,736.2 L1300.8,736.4 L1301.3,736.5 L1301.8,736.5 L1302.3,736.5 L1302.8,736.4 L1303.3,736.2 L1303.8,736.0 L1304.3,735.8 L1304.8,735.5 L1305.3,735.1 L1305.8,734.8 L1306.3,734.4 L1306.8,733.9 L1307.3,733.5 L1307.8,733.0 L1308.3,732.5 L1308.8,731.9 L1309.3,731.4 L1309.8,730.8 L1310.3,730.1 L1310.8,729.5 L1311.3,728.8 L1311.8,728.0 L1312.3,727.2 L1312.8,726.3 L1313.3,725.4 L1313.8,724.4 L1314.3,723.4 L1314.8,722.3 L1315.3,721.2 L1315.8,720.1 L1316.3,719.0 L1316.8,717.8 L1317.3,716.7 L1317.8,715.5 L1318.3,714.4 L1318.8,713.3 L1319.3,712.1 L1319.8,711.0 L1320.3,709.9 L1320.8,708.8 L1321.3,707.7 L1321.8,706.6 L1322.3,705.4 L1322.8,704.3 L1323.3,703.1 L1323.8,701.9 L1324.3,700.7 L1324.8,699.4 L1325.3,698.1 L1325.8,696.8 L1326.3,695.4 L1326.8,694.0 L1327.3,692.5 L1327.8,691.0 L1328.3,689.5 L1328.8,687.9 L1329.3,686.3 L1329.8,684.6 L1330.3,682.9 L1330.8,681.2 L1331.3,679.5 L1331.8,677.8 L1332.3,676.0 L1332.8,674.3 L1333.3,672.5 L1333.8,670.7 L1334.3,668.9 L1334.8,667.1 L1335.3,665.2 L1335.8,663.4 L1336.3,661.5 L1336.8,659.7 L1337.3,657.8 L1337.8,655.9 L1338.3,654.0 L1338.8,652.1 L1339.3,650.2 L1339.8,648.3 L1340.3,646.4 L1340.8,644.4 L1341.3,642.5 L1341.8,640.6 L1342.3,638.6 L1342.8,636.7 L1343.3,634.7 L1343.8,632.8 L1344.3,630.8 L1344.8,628.8 L1345.3,626.9 L1345.8,624.9 L1346.3,622.9 L1346.8,621.0 L1347.3,619.0 L1347.8,617.0 L1348.3,615.1 L1348.8,613.1 L1349.3,611.1 L1349.8,609.1 L1350.3,607.2 L1350.8,605.2 L1351.3,603.2 L1351.8,601.3 L1352.3,599.3 L1352.8,597.4 L1353.3,595.4 L1353.8,593.5 L1354.3,591.5 L1354.8,589.6 L1355.3,587.6 L1355.8,585.7 L1356.3,583.8 L1356.8,581.8 L1357.3,579.9 L1357.8,578.0 L1358.3,576.1 L1358.8,574.2 L1359.3,572.2 L1359.8,570.3 L1360.3,568.4 L1360.8,566.6 L1361.3,564.7 L1361.8,562.8 L1362.3,560.9 L1362.8,559.0 L1363.3,557.2 L1363.8,555.3 L1364.3,553.5 L1364.8,551.6 L1365.3,549.8 L1365.8,547.9 L1366.3,546.1 L1366.8,544.3 L1367.3,542.4 L1367.8,540.6 L1368.3,538.8 L1368.8,537.0 L1369.3,535.2 L1369.8,533.4 L1370.3,531.6 L1370.8,529.8 L1371.3,528.1 L1371.8,526.3 L1372.3,524.5 L1372.8,522.7 L1373.3,521.0 L1373.8,519.2 L1374.3,517.5 L1374.8,515.7 L1375.3,514.0 L1375.8,512.2 L1376.3,510.5 L1376.8,508.8 L1377.3,507.0 L1377.8,505.3 L1378.3,503.6 L1378.8,501.9 L1379.3,500.2 L1379.8,498.5 L1380.3,496.8 L1380.8,495.1 L1381.3,493.4 L1381.8,491.7 L1382.3,490.0 L1382.8,488.4 L1383.3,486.7 L1383.8,485.0 L1384.3,483.4 L1384.8,481.7 L1385.3,480.0 L1385.8,478.4 L1386.3,476.8 L1386.8,475.1 L1387.3,473.5 L1387.8,471.9 L1388.3,470.3 L1388.8,468.6 L1389.3,467.0 L1389.8,465.4 L1390.3,463.8 L1390.8,462.3 L1391.3,460.7 L1391.8,459.1 L1392.3,457.6 L1392.8,456.0 L1393.3,454.5 L1393.8,452.9 L1394.3,451.4 L1394.8,449.9 L1395.3,448.4 L1395.8,446.9 L1396.3,445.4 L1396.8,444.0 L1397.3,442.5 L1397.8,441.1 L1398.3,439.6 L1398.8,438.2 L1399.3,436.8 L1399.8,435.4 L1400.3,434.0 L1400.8,432.7 L1401.3,431.3 L1401.8,430.0 L1402.3,428.7 L1402.8,427.4 L1403.3,426.1 L1403.8,424.9 L1404.3,423.6 L1404.8,422.4 L1405.3,421.2 L1405.8,420.0 L1406.3,418.8 L1406.8,417.7 L1407.3,416.6 L1407.8,415.5 L1408.3,414.4 L1408.8,413.3 L1409.3,412.3 L1409.8,411.3 L1410.3,410.3 L1410.8,409.3 L1411.3,408.3 L1411.8,407.4 L1412.3,406.5 L1412.8,405.6 L1413.3,404.7 L1413.8,403.9 L1414.3,403.1 L1414.8,402.3 L1415.3,401.5 L1415.8,400.8 L1416.3,400.0 L1416.8,399.3 L1417.3,398.6 L1417.8,398.0 L1418.3,397.4 L1418.8,396.7 L1419.3,396.1 L1419.8,395.6 L1420.3,395.0 L1420.8,394.5 L1421.3,394.0 L1421.8,393.5 L1422.3,393.1 L1422.8,392.6 L1423.3,392.2 L1423.8,391.8 L1424.3,391.4 L1424.8,391.1 L1425.3,390.7 L1425.8,390.4 L1426.3,390.1 L1426.8,389.9 L1427.3,389.6 L1427.8,389.4 L1428.3,389.1 L1428.8,388.9 L1429.3,388.7 L1429.8,388.6 L1430.3,388.4 L1430.8,388.3 L1431.3,388.2 L1431.8,388.1 L1432.3,388.0 L1432.8,387.9 L1433.3,387.9 L1433.8,387.8 L1434.3,387.8 L1434.8,387.8 L1435.3,387.8 L1435.8,387.8 L1436.3,387.9 L1436.8,387.9 L1437.3,388.0 L1437.8,388.1 L1438.3,388.2 L1438.8,388.3 L1439.3,388.4 L1439.8,388.5 L1440.3,388.7 L1440.8,388.9 L1441.3,389.0 L1441.8,389.2 L1442.3,389.5 L1442.8,389.7 L1443.3,389.9 L1443.8,390.2 L1444.3,390.4 L1444.8,390.7 L1445.3,391.0 L1445.8,391.3 L1446.3,391.6 L1446.8,391.9 L1447.3,392.3 L1447.8,392.6 L1448.3,393.0 L1448.8,393.4 L1449.3,393.8 L1449.8,394.2 L1450.3,394.6 L1450.8,395.1 L1451.3,395.5 L1451.8,396.0 L1452.3,396.5 L1452.8,396.9 L1453.3,397.5 L1453.8,398.0 L1454.3,398.5 L1454.8,399.1 L1455.3,399.6 L1455.8,400.2 L1456.3,400.8 L1456.8,401.4 L1457.3,402.0 L1457.8,402.7 L1458.3,403.3 L1458.8,404.0 L1459.3,404.6 L1459.8,405.3 L1460.3,406.1 L1460.8,406.8 L1461.3,407.5 L1461.8,408.3 L1462.3,409.0 L1462.8,409.8 L1463.3,410.6 L1463.8,411.4 L1464.3,412.3 L1464.8,413.1 L1465.3,414.0 L1465.8,414.8 L1466.3,415.7 L1466.8,416.6 L1467.3,417.6 L1467.8,418.5 L1468.3,419.4 L1468.8,420.4 L1469.3,421.4 L1469.8,422.4 L1470.3,423.4 L1470.8,424.4 L1471.3,425.5 L1471.8,426.5 L1472.3,427.6 L1472.8,428.7 L1473.3,429.8 L1473.8,430.9 L1474.3,432.0 L1474.8,433.2 L1475.3,434.3 L1475.8,435.5 L1476.3,436.7 L1476.8,437.9 L1477.3,439.1 L1477.8,440.4 L1478.3,441.6 L1478.8,442.9 L1479.3,444.1 L1479.8,445.4 L1480.3,446.7 L1480.8,448.0 L1481.3,449.4 L1481.8,450.7 L1482.3,452.0 L1482.8,453.4 L1483.3,454.8 L1483.8,456.2 L1484.3,457.6 L1484.8,459.0 L1485.3,460.4 L1485.8,461.8 L1486.3,463.3 L1486.8,464.7 L1487.3,466.2 L1487.8,467.6 L1488.3,469.1 L1488.8,470.6 L1489.3,472.1 L1489.8,473.6 L1490.3,475.2 L1490.8,476.7 L1491.3,478.2 L1491.8,479.8 L1492.3,481.3 L1492.8,482.9 L1493.3,484.5 L1493.8,486.1 L1494.3,487.7 L1494.8,489.3 L1495.3,490.9 L1495.8,492.5 L1496.3,494.1 L1496.8,495.7 L1497.3,497.4 L1497.8,499.0 L1498.3,500.7 L1498.8,502.3 L1499.3,504.0 L1499.8,505.7 L1500.3,507.3 L1500.8,509.0 L1501.3,510.7 L1501.8,512.4 L1502.3,514.1 L1502.8,515.8 L1503.3,517.5 L1503.8,519.2 L1504.3,521.0 L1504.8,522.7 L1505.3,524.4 L1505.8,526.2 L1506.3,527.9 L1506.8,529.6 L1507.3,531.4 L1507.8,533.2 L1508.3,534.9 L1508.8,536.7 L1509.3,538.5 L1509.8,540.2 L1510.3,542.0 L1510.8,543.8 L1511.3,545.6 L1511.8,547.4 L1512.3,549.2 L1512.8,551.0 L1513.3,552.8 L1513.8,554.6 L1514.3,556.4 L1514.8,558.2 L1515.3,560.1 L1515.8,561.9 L1516.3,563.7 L1516.8,565.6 L1517.3,567.4 L1517.8,569.2 L1518.3,571.1 L1518.8,572.9 L1519.3,574.8 L1519.8,576.6 L1520.3,578.5 L1520.8,580.4 L1521.3,582.2 L1521.8,584.1 L1522.3,586.0 L1522.8,587.8 L1523.3,589.7 L1523.8,591.6 L1524.3,593.5 L1524.8,595.4 L1525.3,597.3 L1525.8,599.1 L1526.3,601.0 L1526.8,602.9 L1527.3,604.8 L1527.8,606.7 L1528.3,608.6 L1528.8,610.5 L1529.3,612.4 L1529.8,614.3 L1530.3,616.2 L1530.8,618.1 L1531.3,619.9 L1531.8,621.8 L1532.3,623.7 L1532.8,625.6 L1533.3,627.5 L1533.8,629.4 L1534.3,631.2 L1534.8,633.1 L1535.3,635.0 L1535.8,636.9 L1536.3,638.7 L1536.8,640.6 L1537.3,642.4 L1537.8,644.3 L1538.3,646.1 L1538.8,647.9 L1539.3,649.8 L1539.8,651.6 L1540.3,653.4 L1540.8,655.2 L1541.3,657.0 L1541.8,658.8 L1542.3,660.6 L1542.8,662.4 L1543.3,664.1 L1543.8,665.9 L1544.3,667.6 L1544.8,669.3 L1545.3,671.1 L1545.8,672.8 L1546.3,674.5 L1546.8,676.2 L1547.3,677.8 L1547.8,679.5 L1548.3,681.1 L1548.8,682.8 L1549.3,684.4 L1549.8,686.0 L1550.3,687.6 L1550.8,689.2 L1551.3,690.8 L1551.8,692.3 L1552.3,693.8 L1552.8,695.4 L1553.3,696.9 L1553.8,698.4 L1554.3,699.9 L1554.8,701.3 L1555.3,702.8 L1555.8,704.2 L1556.3,705.6 L1556.8,707.0 L1557.3,708.4 L1557.8,709.8 L1558.3,711.1 L1558.8,712.5 L1559.3,713.8 L1559.8,715.1 L1560.3,716.4 L1560.8,717.7 L1561.3,718.9 L1561.8,720.2 L1562.3,721.4 L1562.8,722.6 L1563.3,723.8 L1563.8,725.0 L1564.3,726.2 L1564.8,727.3 L1565.3,728.4 L1565.8,729.5 L1566.3,730.6 L1566.8,731.7 L1567.3,732.8 L1567.8,733.8 L1568.3,734.8 L1568.8,735.8 L1569.3,736.8 L1569.8,737.8 L1570.3,738.8 L1570.8,739.7 L1571.3,740.7 L1571.8,741.6 L1572.3,742.5 L1572.8,743.3 L1573.3,744.2 L1573.8,745.0 L1574.3,745.9 L1574.8,746.7 L1575.3,747.5 L1575.8,748.3 L1576.3,749.0 L1576.8,749.8 L1577.3,750.5 L1577.8,751.2 L1578.3,751.9 L1578.8,752.6 L1579.3,753.2 L1579.8,753.9 L1580.3,754.5 L1580.8,755.1 L1581.3,755.7 L1581.8,756.3 L1582.3,756.8 L1582.8,757.4 L1583.3,757.9 L1583.8,758.4 L1584.3,758.9 L1584.8,759.4 L1585.3,759.8 L1585.8,760.3 L1586.3,760.7 L1586.8,761.1 L1587.3,761.5 L1587.8,761.9 L1588.3,762.2 L1588.8,762.5 L1589.3,762.9 L1589.8,763.2 L1590.3,763.4 L1590.8,763.7 L1591.3,764.0 L1591.8,764.2 L1592.3,764.4 L1592.8,764.6 L1593.3,764.8 L1593.8,764.9 L1594.3,765.1 L1594.8,765.2 L1595.3,765.3 L1595.8,765.4 L1596.3,765.5 L1596.8,765.5 L1597.3,765.6 L1597.8,765.6 L1598.3,765.6 L1598.8,765.6 L1599.3,765.5 L1599.8,765.5 L1600.3,765.4 L1600.8,765.3 L1601.3,765.2 L1601.8,765.1 L1602.3,764.9 L1602.8,764.8 L1603.3,764.6 L1603.8,764.4 L1604.3,764.2" stroke="#f1b286" stroke-width="4.3"/>
<path d="M118.3,306.8 L118.8,303.6 L119.3,300.4 L119.8,297.0 L120.3,293.6 L120.8,290.1 L121.3,286.6 L121.8,283.0 L122.3,279.3 L122.8,275.5 L123.3,271.7 L123.8,267.9 L124.3,264.0 L124.8,260.0 L125.3,256.1 L125.8,252.0 L126.3,248.0 L126.8,243.9 L127.3,239.7 L127.8,235.6 L128.3,231.4 L128.8,227.2 L129.3,223.0 L129.8,218.8 L130.3,214.6 L130.8,210.4 L131.3,206.2 L131.8,202.0 L132.3,197.9 L132.8,193.8 L133.3,189.7 L133.8,185.6 L134.3,181.6 L134.8,177.7 L135.3,173.8 L135.8,170.0 L136.3,166.3 L136.8,162.6 L137.3,159.0 L137.8,155.6 L138.3,152.2 L138.8,148.9 L139.3,145.8 L139.8,142.7 L140.3,139.8 L140.8,137.0 L141.3,134.3 L141.8,131.8 L142.3,129.3 L142.8,127.1 L143.3,124.9 L143.8,122.9 L144.3,121.0 L144.8,119.2 L145.3,117.6 L145.8,116.1 L146.3,114.7 L146.8,113.4 L147.3,112.3 L147.8,111.2 L148.3,110.3 L148.8,109.4 L149.3,108.7 L149.8,108.0 L150.3,107.5 L150.8,107.0 L151.3,106.6 L151.8,106.3 L152.3,106.0 L152.8,105.8 L153.3,105.7 L153.8,105.7 L154.3,105.7 L154.8,105.8 L155.3,106.0 L155.8,106.2 L156.3,106.5 L156.8,106.9 L157.3,107.4 L157.8,107.9 L158.3,108.5 L158.8,109.2 L159.3,110.0 L159.8,110.9 L160.3,111.8 L160.8,112.9 L161.3,114.1 L161.8,115.4 L162.3,116.8 L162.8,118.3 L163.3,119.9 L163.8,121.6 L164.3,123.5 L164.8,125.5 L165.3,127.6 L165.8,129.8 L166.3,132.2 L166.8,134.7 L167.3,137.3 L167.8,140.1 L168.3,142.9 L168.8,146.0 L169.3,149.1 L169.8,152.4 L170.3,155.8 L170.8,159.3 L171.3,162.9 L171.8,166.7 L172.3,170.5 L172.8,174.5 L173.3,178.5 L173.8,182.7 L174.3,186.9 L174.8,191.3 L175.3,195.7 L175.8,200.2 L176.3,204.8 L176.8,209.4 L177.3,214.1 L177.8,218.9 L178.3,223.7 L178.8,228.5 L179.3,233.4 L179.8,238.3 L180.3,243.3 L180.8,248.2 L181.3,253.2 L181.8,258.2 L182.3,263.2 L182.8,268.1 L183.3,273.1 L183.8,278.1 L184.3,283.0 L184.8,287.9 L185.3,292.8 L185.8,297.7 L186.3,302.6 L186.8,307.5 L187.3,312.3 L187.8,317.1 L188.3,321.9 L188.8,326.6 L189.3,331.3 L189.8,336.0 L190.3,340.6 L190.8,345.2 L191.3,349.7 L191.8,354.2 L192.3,358.6 L192.8,362.9 L193.3,367.1 L193.8,371.3 L194.3,375.4 L194.8,379.3 L195.3,383.3 L195.8,387.1 L196.3,390.9 L196.8,394.5 L197.3,398.1 L197.8,401.7 L198.3,405.1 L198.8,408.5 L199.3,411.9 L199.8,415.1 L200.3,418.3 L200.8,421.4 L201.3,424.5 L201.8,427.5 L202.3,430.4 L202.8,433.2 L203.3,435.9 L203.8,438.5 L204.3,441.0 L204.8,443.4 L205.3,445.7 L205.8,447.8 L206.3,449.9 L206.8,451.8 L207.3,453.5 L207.8,455.2 L208.3,456.7 L208.8,458.1 L209.3,459.3 L209.8,460.5 L210.3,461.5 L210.8,462.3 L211.3,463.1 L211.8,463.7 L212.3,464.1 L212.8,464.5 L213.3,464.7 L213.8,464.7 L214.3,464.7 L214.8,464.5 L215.3,464.2 L215.8,463.7 L216.3,463.1 L216.8,462.4 L217.3,461.5 L217.8,460.5 L218.3,459.4 L218.8,458.0 L219.3,456.6 L219.8,455.0 L220.3,453.2 L220.8,451.3 L221.3,449.3 L221.8,447.1 L222.3,444.8 L222.8,442.4 L223.3,439.9 L223.8,437.3 L224.3,434.6 L224.8,431.9 L225.3,429.1 L225.8,426.2 L226.3,423.3 L226.8,420.3 L227.3,417.3 L227.8,414.3 L228.3,411.2 L228.8,408.0 L229.3,404.8 L229.8,401.6 L230.3,398.3 L230.8,395.0 L231.3,391.6 L231.8,388.1 L232.3,384.6 L232.8,381.0 L233.3,377.4 L233.8,373.7 L234.3,370.0 L234.8,366.2 L235.3,362.4 L235.8,358.4 L236.3,354.5 L236.8,350.5 L237.3,346.4 L237.8,342.3 L238.3,338.2 L238.8,334.0 L239.3,329.8 L239.8,325.6 L240.3,321.3 L240.8,317.1 L241.3,312.8 L241.8,308.5 L242.3,304.2 L242.8,299.9 L243.3,295.5 L243.8,291.2 L244.3,286.8 L244.8,282.5 L245.3,278.1 L245.8,273.8 L246.3,269.4 L246.8,265.1 L247.3,260.7 L247.8,256.4 L248.3,252.1 L248.8,247.8 L249.3,243.6 L249.8,239.4 L250.3,235.2 L250.8,231.0 L251.3,227.0 L251.8,222.9 L252.3,219.0 L252.8,215.1 L253.3,211.2 L253.8,207.5 L254.3,203.8 L254.8,200.2 L255.3,196.6 L255.8,193.2 L256.3,189.8 L256.8,186.6 L257.3,183.4 L257.8,180.3 L258.3,177.3 L258.8,174.5 L259.3,171.7 L259.8,169.0 L260.3,166.5 L260.8,164.0 L261.3,161.7 L261.8,159.4 L262.3,157.3 L262.8,155.3 L263.3,153.3 L263.8,151.5 L264.3,149.8 L264.8,148.2 L265.3,146.7 L265.8,145.3 L266.3,143.9 L266.8,142.7 L267.3,141.6 L267.8,140.5 L268.3,139.6 L268.8,138.7 L269.3,137.9 L269.8,137.1 L270.3,136.5 L270.8,135.9 L271.3,135.4 L271.8,134.9 L272.3,134.5 L272.8,134.2 L273.3,133.9 L273.8,133.7 L274.3,133.5 L274.8,133.4 L275.3,133.4 L275.8,133.4 L276.3,133.4 L276.8,133.5 L277.3,133.7 L277.8,133.9 L278.3,134.2 L278.8,134.5 L279.3,134.9 L279.8,135.3 L280.3,135.8 L280.8,136.4 L281.3,137.0 L281.8,137.6 L282.3,138.4 L282.8,139.2 L283.3,140.1 L283.8,141.1 L284.3,142.1 L284.8,143.2 L285.3,144.4 L285.8,145.7 L286.3,147.0 L286.8,148.5 L287.3,150.0 L287.8,151.6 L288.3,153.3 L288.8,155.1 L289.3,157.0 L289.8,159.0 L290.3,161.1 L290.8,163.3 L291.3,165.6 L291.8,168.0 L292.3,170.4 L292.8,173.0 L293.3,175.7 L293.8,178.5 L294.3,181.3 L294.8,184.3 L295.3,187.3 L295.8,190.5 L296.3,193.7 L296.8,197.0 L297.3,200.4 L297.8,203.9 L298.3,207.4 L298.8,211.1 L299.3,214.8 L299.8,218.6 L300.3,222.5 L300.8,226.4 L301.3,230.4 L301.8,234.4 L302.3,238.6 L302.8,242.7 L303.3,247.0 L303.8,251.3 L304.3,255.6 L304.8,260.0 L305.3,264.4 L305.8,268.8 L306.3,273.3 L306.8,277.8 L307.3,282.3 L307.8,286.8 L308.3,291.4 L308.8,296.0 L309.3,300.7 L309.8,305.3 L310.3,310.0 L310.8,314.8 L311.3,319.5 L311.8,324.3 L312.3,329.1 L312.8,334.0 L313.3,338.8 L313.8,343.8 L314.3,348.7 L314.8,353.6 L315.3,358.5 L315.8,363.4 L316.3,368.3 L316.8,373.1 L317.3,377.9 L317.8,382.5 L318.3,387.1 L318.8,391.6 L319.3,395.9 L319.8,400.1 L320.3,404.3 L320.8,408.3 L321.3,412.2 L321.8,415.9 L322.3,419.6 L322.8,423.2 L323.3,426.6 L323.8,430.0 L324.3,433.3 L324.8,436.5 L325.3,439.6 L325.8,442.7 L326.3,445.7 L326.8,448.6 L327.3,451.4 L327.8,454.1 L328.3,456.7 L328.8,459.2 L329.3,461.7 L329.8,464.0 L330.3,466.3 L330.8,468.4 L331.3,470.5 L331.8,472.4 L332.3,474.3 L332.8,476.0 L333.3,477.7 L333.8,479.2 L334.3,480.7 L334.8,482.0 L335.3,483.2 L335.8,484.4 L336.3,485.4 L336.8,486.3 L337.3,487.2 L337.8,487.9 L338.3,488.5 L338.8,489.1 L339.3,489.5 L339.8,489.8 L340.3,490.0 L340.8,490.1 L341.3,490.2 L341.8,490.1 L342.3,489.9 L342.8,489.6 L343.3,489.2 L343.8,488.7 L344.3,488.1 L344.8,487.4 L345.3,486.5 L345.8,485.6 L346.3,484.6 L346.8,483.5 L347.3,482.2 L347.8,480.9 L348.3,479.5 L348.8,477.9 L349.3,476.3 L349.8,474.5 L350.3,472.7 L350.8,470.7 L351.3,468.7 L351.8,466.5 L352.3,464.3 L352.8,462.0 L353.3,459.5 L353.8,457.0 L354.3,454.4 L354.8,451.8 L355.3,449.1 L355.8,446.3 L356.3,443.4 L356.8,440.5 L357.3,437.6 L357.8,434.6 L358.3,431.5 L358.8,428.5 L359.3,425.3 L359.8,422.1 L360.3,418.9 L360.8,415.6 L361.3,412.3 L361.8,408.9 L362.3,405.5 L362.8,402.0 L363.3,398.4 L363.8,394.8 L364.3,391.2 L364.8,387.5 L365.3,383.8 L365.8,380.0 L366.3,376.2 L366.8,372.3 L367.3,368.3 L367.8,364.4 L368.3,360.3 L368.8,356.3 L369.3,352.2 L369.8,348.0 L370.3,343.8 L370.8,339.6 L371.3,335.3 L371.8,331.0 L372.3,326.7 L372.8,322.3 L373.3,317.9 L373.8,313.5 L374.3,309.1 L374.8,304.6 L375.3,300.2 L375.8,295.7 L376.3,291.2 L376.8,286.7 L377.3,282.2 L377.8,277.7 L378.3,273.2 L378.8,268.7 L379.3,264.1 L379.8,259.6 L380.3,255.1 L380.8,250.7 L381.3,246.2 L381.8,241.8 L382.3,237.5 L382.8,233.2 L383.3,229.1 L383.8,224.9 L384.3,220.9 L384.8,217.0 L385.3,213.2 L385.8,209.4 L386.3,205.8 L386.8,202.3 L387.3,198.9 L387.8,195.7 L388.3,192.5 L388.8,189.4 L389.3,186.5 L389.8,183.6 L390.3,180.9 L390.8,178.2 L391.3,175.6 L391.8,173.1 L392.3,170.8 L392.8,168.5 L393.3,166.2 L393.8,164.1 L394.3,162.0 L394.8,160.0 L395.3,158.0 L395.8,156.1 L396.3,154.2 L396.8,152.4 L397.3,150.6 L397.8,148.8 L398.3,147.0 L398.8,145.2 L399.3,143.5 L399.8,141.9 L400.3,140.5 L400.8,139.3 L401.3,138.5 L401.8,137.9 L402.3,137.6 L402.8,137.4 L403.3,137.3 L403.8,137.2 L404.3,137.1 L404.8,136.9 L405.3,136.7 L405.8,136.5 L406.3,136.3 L406.8,136.1 L407.3,136.1 L407.8,136.3 L408.3,136.7 L408.8,137.4 L409.3,138.2 L409.8,139.0 L410.3,140.0 L410.8,140.9 L411.3,141.8 L411.8,142.6 L412.3,143.2 L412.8,143.8 L413.3,144.2 L413.8,144.6 L414.3,145.0 L414.8,145.2 L415.3,145.4 L415.8,145.6 L416.3,145.8 L416.8,146.1 L417.3,146.4 L417.8,146.8 L418.3,147.4 L418.8,148.0 L419.3,148.7 L419.8,149.6 L420.3,150.6 L420.8,151.7 L421.3,152.9 L421.8,154.2 L422.3,155.6 L422.8,157.1 L423.3,158.6 L423.8,160.2 L424.3,161.9 L424.8,163.7 L425.3,165.7 L425.8,167.7 L426.3,169.8 L426.8,172.0 L427.3,174.2 L427.8,176.5 L428.3,178.8 L428.8,181.2 L429.3,183.6 L429.8,186.0 L430.3,188.5 L430.8,191.0 L431.3,193.5 L431.8,196.1 L432.3,198.7 L432.8,201.3 L433.3,203.9 L433.8,206.6 L434.3,209.3 L434.8,212.0 L435.3,214.7 L435.8,217.5 L436.3,220.3 L436.8,223.2 L437.3,226.0 L437.8,228.9 L438.3,231.8 L438.8,234.7 L439.3,237.7 L439.8,240.7 L440.3,243.7 L440.8,246.7 L441.3,249.8 L441.8,252.9 L442.3,256.0 L442.8,259.2 L443.3,262.4 L443.8,265.6 L444.3,268.9 L444.8,272.2 L445.3,275.5 L445.8,278.9 L446.3,282.3 L446.8,285.7 L447.3,289.1 L447.8,292.6 L448.3,296.1 L448.8,299.6 L449.3,303.1 L449.8,306.6 L450.3,310.1 L450.8,313.6 L451.3,317.2 L451.8,320.7 L452.3,324.2 L452.8,327.8 L453.3,331.3 L453.8,334.8 L454.3,338.3 L454.8,341.8 L455.3,345.2 L455.8,348.7 L456.3,352.1 L456.8,355.5 L457.3,358.8 L457.8,362.2 L458.3,365.5 L458.8,368.8 L459.3,372.0 L459.8,375.2 L460.3,378.4 L460.8,381.5 L461.3,384.6 L461.8,387.6 L462.3,390.6 L462.8,393.6 L463.3,396.5 L463.8,399.4 L464.3,402.3 L464.8,405.1 L465.3,407.8 L465.8,410.6 L466.3,413.2 L466.8,415.9 L467.3,418.6 L467.8,421.2 L468.3,423.8 L468.8,426.4 L469.3,428.9 L469.8,431.5 L470.3,434.0 L470.8,436.5 L471.3,439.0 L471.8,441.5 L472.3,444.0 L472.8,446.4 L473.3,448.8 L473.8,451.1 L474.3,453.3 L474.8,455.5 L475.3,457.6 L475.8,459.5 L476.3,461.4 L476.8,463.1 L477.3,464.7 L477.8,466.2 L478.3,467.6 L478.8,468.8 L479.3,469.9 L479.8,470.8 L480.3,471.7 L480.8,472.4 L481.3,472.9 L481.8,473.4 L482.3,473.8 L482.8,474.0 L483.3,474.1 L483.8,474.2 L484.3,474.1 L484.8,474.0 L485.3,473.7 L485.8,473.4 L486.3,473.0 L486.8,472.4 L487.3,471.8 L487.8,471.1 L488.3,470.3 L488.8,469.4 L489.3,468.4 L489.8,467.3 L490.3,466.1 L490.8,464.9 L491.3,463.5 L491.8,462.1 L492.3,460.6 L492.8,459.0 L493.3,457.3 L493.8,455.5 L494.3,453.6 L494.8,451.6 L495.3,449.6 L495.8,447.4 L496.3,445.2 L496.8,443.0 L497.3,440.6 L497.8,438.2 L498.3,435.7 L498.8,433.2 L499.3,430.6 L499.8,428.0 L500.3,425.3 L500.8,422.5 L501.3,419.7 L501.8,416.9 L502.3,414.0 L502.8,411.0 L503.3,408.0 L503.8,405.0 L504.3,401.8 L504.8,398.7 L505.3,395.4 L505.8,392.1 L506.3,388.8 L506.8,385.4 L507.3,381.9 L507.8,378.4 L508.3,374.8 L508.8,371.1 L509.3,367.5 L509.8,363.7 L510.3,359.9 L510.8,356.1 L511.3,352.3 L511.8,348.4 L512.3,344.4 L512.8,340.5 L513.3,336.5 L513.8,332.5 L514.3,328.5 L514.8,324.4 L515.3,320.4 L515.8,316.3 L516.3,312.3 L516.8,308.2 L517.3,304.2 L517.8,300.1 L518.3,296.1 L518.8,292.1 L519.3,288.0 L519.8,284.0 L520.3,280.0 L520.8,276.1 L521.3,272.1 L521.8,268.2 L522.3,264.3 L522.8,260.4 L523.3,256.6 L523.8,252.8 L524.3,249.0 L524.8,245.3 L525.3,241.6 L525.8,237.9 L526.3,234.3 L526.8,230.6 L527.3,227.0 L527.8,223.5 L528.3,219.9 L528.8,216.4 L529.3,212.9 L529.8,209.5 L530.3,206.1 L530.8,202.7 L531.3,199.3 L531.8,196.0 L532.3,192.7 L532.8,189.5 L533.3,186.3 L533.8,183.1 L534.3,180.0 L534.8,177.0 L535.3,174.0 L535.8,171.1 L536.3,168.3 L536.8,165.5 L537.3,162.8 L537.8,160.2 L538.3,157.6 L538.8,155.1 L539.3,152.6 L539.8,150.2 L540.3,147.8 L540.8,145.5 L541.3,143.2 L541.8,140.9 L542.3,138.6 L542.8,136.3 L543.3,134.0 L543.8,131.6 L544.3,129.4 L544.8,127.3 L545.3,125.3 L545.8,123.5 L546.3,121.8 L546.8,120.3 L547.3,118.9 L547.8,117.8 L548.3,116.7 L548.8,115.8 L549.3,115.0 L549.8,114.2 L550.3,113.5 L550.8,112.8 L551.3,112.1 L551.8,111.4 L552.3,110.7 L552.8,110.2 L553.3,109.8 L553.8,109.6 L554.3,109.5 L554.8,109.5 L555.3,109.6 L555.8,109.7 L556.3,109.8 L556.8,109.9 L557.3,109.9 L557.8,109.8 L558.3,109.7 L558.8,109.6 L559.3,109.5 L559.8,109.5 L560.3,109.6 L560.8,109.8 L561.3,110.1 L561.8,110.5 L562.3,111.0 L562.8,111.4 L563.3,111.9 L563.8,112.4 L564.3,112.9 L564.8,113.4 L565.3,114.0 L565.8,114.6 L566.3,115.2 L566.8,115.8 L567.3,116.5 L567.8,117.2 L568.3,117.9 L568.8,118.6 L569.3,119.3 L569.8,120.1 L570.3,120.9 L570.8,121.7 L571.3,122.5 L571.8,123.4 L572.3,124.4 L572.8,125.3 L573.3,126.4 L573.8,127.5 L574.3,128.7 L574.8,129.9 L575.3,131.3 L575.8,132.7 L576.3,134.2 L576.8,135.7 L577.3,137.3 L577.8,138.9 L578.3,140.5 L578.8,142.2 L579.3,143.8 L579.8,145.5 L580.3,147.3 L580.8,149.1 L581.3,151.0 L581.8,153.0 L582.3,155.1 L582.8,157.2 L583.3,159.5 L583.8,161.9 L584.3,164.3 L584.8,166.9 L585.3,169.5 L585.8,172.1 L586.3,174.9 L586.8,177.7 L587.3,180.6 L587.8,183.5 L588.3,186.5 L588.8,189.6 L589.3,192.7 L589.8,195.8 L590.3,199.0 L590.8,202.3 L591.3,205.6 L591.8,208.9 L592.3,212.3 L592.8,215.7 L593.3,219.2 L593.8,222.6 L594.3,226.1 L594.8,229.7 L595.3,233.2 L595.8,236.8 L596.3,240.4 L596.8,243.9 L597.3,247.5 L597.8,251.2 L598.3,254.8 L598.8,258.4 L599.3,262.0 L599.8,265.6 L600.3,269.2 L600.8,272.7 L601.3,276.3 L601.8,279.8 L602.3,283.4 L602.8,286.9 L603.3,290.4 L603.8,293.9 L604.3,297.3 L604.8,300.8 L605.3,304.3 L605.8,307.8 L606.3,311.3 L606.8,314.8 L607.3,318.3 L607.8,321.8 L608.3,325.3 L608.8,328.8 L609.3,332.4 L609.8,335.9 L610.3,339.5 L610.8,343.2 L611.3,346.8 L611.8,350.4 L612.3,354.1 L612.8,357.8 L613.3,361.5 L613.8,365.2 L614.3,368.9 L614.8,372.6 L615.3,376.3 L615.8,380.0 L616.3,383.7 L616.8,387.4 L617.3,391.0 L617.8,394.7 L618.3,398.4 L618.8,402.0 L619.3,405.7 L619.8,409.3 L620.3,412.9 L620.8,416.5 L621.3,420.0 L621.8,423.5 L622.3,427.0 L622.8,430.5 L623.3,433.9 L623.8,437.4 L624.3,440.7 L624.8,444.1 L625.3,447.4 L625.8,450.6 L626.3,453.8 L626.8,457.0 L627.3,460.1 L627.8,463.2 L628.3,466.2 L628.8,469.2 L629.3,472.1 L629.8,474.9 L630.3,477.7 L630.8,480.4 L631.3,483.1 L631.8,485.6 L632.3,488.1 L632.8,490.5 L633.3,492.8 L633.8,495.1 L634.3,497.3 L634.8,499.5 L635.3,501.6 L635.8,503.7 L636.3,505.6 L636.8,507.5 L637.3,509.2 L637.8,510.7 L638.3,512.2 L638.8,513.4 L639.3,514.6 L639.8,515.7 L640.3,516.7 L640.8,517.7 L641.3,518.5 L641.8,519.4 L642.3,520.1 L642.8,520.9 L643.3,521.5 L643.8,522.2 L644.3,522.8 L644.8,523.5 L645.3,524.1 L645.8,524.7 L646.3,525.3 L646.8,525.8 L647.3,526.3 L647.8,526.7 L648.3,527.1 L648.8,527.4 L649.3,527.6 L649.8,527.7 L650.3,527.7 L650.8,527.5 L651.3,527.2 L651.8,526.7 L652.3,526.1 L652.8,525.4 L653.3,524.6 L653.8,523.8 L654.3,523.0 L654.8,522.1 L655.3,521.3 L655.8,520.3 L656.3,519.3 L656.8,518.3 L657.3,517.2 L657.8,516.0 L658.3,514.8 L658.8,513.6 L659.3,512.3 L659.8,511.0 L660.3,509.6 L660.8,508.2 L661.3,506.8 L661.8,505.3 L662.3,503.7 L662.8,502.1 L663.3,500.5 L663.8,498.8 L664.3,497.0 L664.8,495.2 L665.3,493.3 L665.8,491.3 L666.3,489.2 L666.8,487.0 L667.3,484.8 L667.8,482.4 L668.3,480.0 L668.8,477.5 L669.3,474.9 L669.8,472.2 L670.3,469.5 L670.8,466.6 L671.3,463.7 L671.8,460.7 L672.3,457.6 L672.8,454.4 L673.3,451.2 L673.8,448.0 L674.3,444.8 L674.8,441.6 L675.3,438.4 L675.8,435.2 L676.3,432.0 L676.8,428.9 L677.3,425.9 L677.8,422.9 L678.3,419.9 L678.8,416.9 L679.3,414.0 L679.8,411.1 L680.3,408.3 L680.8,405.5 L681.3,402.7 L681.8,399.9 L682.3,397.1 L682.8,394.4 L683.3,391.7 L683.8,389.0 L684.3,386.3 L684.8,383.6 L685.3,380.9 L685.8,378.2 L686.3,375.6 L686.8,372.9 L687.3,370.3 L687.8,367.7 L688.3,365.0 L688.8,362.4 L689.3,359.9 L689.8,357.3 L690.3,354.7 L690.8,352.2 L691.3,349.6 L691.8,347.1 L692.3,344.6 L692.8,342.2 L693.3,339.7 L693.8,337.3 L694.3,334.8 L694.8,332.4 L695.3,330.1 L695.8,327.7 L696.3,325.4 L696.8,323.0 L697.3,320.8 L697.8,318.5 L698.3,316.2 L698.8,314.0 L699.3,311.8 L699.8,309.7 L700.3,307.5 L700.8,305.4 L701.3,303.3 L701.8,301.3 L702.3,299.3 L702.8,297.3 L703.3,295.3 L703.8,293.4 L704.3,291.5 L704.8,289.6 L705.3,287.8 L705.8,286.0 L706.3,284.3 L706.8,282.5 L707.3,280.9 L707.8,279.3 L708.3,277.8 L708.8,276.3 L709.3,274.9 L709.8,273.6 L710.3,272.2 L710.8,270.9 L711.3,269.6 L711.8,268.3 L712.3,267.0 L712.8,265.7 L713.3,264.5 L713.8,263.2 L714.3,262.0 L714.8,260.8 L715.3,259.6 L715.8,258.4 L716.3,257.2 L716.8,256.1 L717.3,255.0 L717.8,253.9 L718.3,252.9 L718.8,251.9 L719.3,251.0 L719.8,250.1 L720.3,249.2 L720.8,248.4 L721.3,247.6 L721.8,246.8 L722.3,246.0 L722.8,245.2 L723.3,244.5 L723.8,243.7 L724.3,243.1 L724.8,242.5 L725.3,242.0 L725.8,241.5 L726.3,241.1 L726.8,240.7 L727.3,240.4 L727.8,240.0 L728.3,239.7 L728.8,239.4 L729.3,239.1 L729.8,238.7 L730.3,238.4 L730.8,238.1 L731.3,237.7 L731.8,237.3 L732.3,236.9 L732.8,236.5 L733.3,236.0 L733.8,235.6 L734.3,235.2 L734.8,234.9 L735.3,234.6 L735.8,234.5 L736.3,234.4 L736.8,234.6 L737.3,235.0 L737.8,235.6 L738.3,236.5 L738.8,237.6 L739.3,238.8 L739.8,240.1 L740.3,241.5 L740.8,242.9 L741.3,244.2 L741.8,245.6 L742.3,246.9 L742.8,248.1 L743.3,249.2 L743.8,250.3 L744.3,251.3 L744.8,252.2 L745.3,253.2 L745.8,254.1 L746.3,254.9 L746.8,255.8 L747.3,256.6 L747.8,257.5 L748.3,258.3 L748.8,259.3 L749.3,260.3 L749.8,261.3 L750.3,262.5 L750.8,263.7 L751.3,265.0 L751.8,266.2 L752.3,267.5 L752.8,268.7 L753.3,269.9 L753.8,271.1 L754.3,272.3 L754.8,273.5 L755.3,274.8 L755.8,276.1 L756.3,277.5 L756.8,279.0 L757.3,280.5 L757.8,282.1 L758.3,283.8 L758.8,285.6 L759.3,287.4 L759.8,289.3 L760.3,291.3 L760.8,293.4 L761.3,295.6 L761.8,297.8 L762.3,300.0 L762.8,302.3 L763.3,304.6 L763.8,306.9 L764.3,309.3 L764.8,311.6 L765.3,314.0 L765.8,316.4 L766.3,318.8 L766.8,321.2 L767.3,323.6 L767.8,326.0 L768.3,328.4 L768.8,330.9 L769.3,333.3 L769.8,335.8 L770.3,338.3 L770.8,340.8 L771.3,343.3 L771.8,345.9 L772.3,348.4 L772.8,351.0 L773.3,353.6 L773.8,356.2 L774.3,358.9 L774.8,361.5 L775.3,364.2 L775.8,367.0 L776.3,369.8 L776.8,372.6 L777.3,375.4 L777.8,378.3 L778.3,381.2 L778.8,384.2 L779.3,387.2 L779.8,390.2 L780.3,393.3 L780.8,396.4 L781.3,399.6 L781.8,402.7 L782.3,405.9 L782.8,409.1 L783.3,412.3 L783.8,415.6 L784.3,418.8 L784.8,422.1 L785.3,425.4 L785.8,428.7 L786.3,432.0 L786.8,435.3 L787.3,438.6 L787.8,441.9 L788.3,445.2 L788.8,448.5 L789.3,451.8 L789.8,455.1 L790.3,458.4 L790.8,461.7 L791.3,464.9 L791.8,468.2 L792.3,471.4 L792.8,474.7 L793.3,477.9 L793.8,481.1 L794.3,484.3 L794.8,487.5 L795.3,490.7 L795.8,493.8 L796.3,497.0 L796.8,500.1 L797.3,503.2 L797.8,506.3 L798.3,509.4 L798.8,512.5 L799.3,515.5 L799.8,518.5 L800.3,521.6 L800.8,524.5 L801.3,527.5 L801.8,530.4 L802.3,533.4 L802.8,536.3 L803.3,539.1 L803.8,542.0 L804.3,544.8 L804.8,547.6 L805.3,550.4 L805.8,553.1 L806.3,555.8 L806.8,558.5 L807.3,561.2 L807.8,563.8 L808.3,566.4 L808.8,569.0 L809.3,571.5 L809.8,574.0 L810.3,576.4 L810.8,578.9 L811.3,581.3 L811.8,583.6 L812.3,585.9 L812.8,588.3 L813.3,590.5 L813.8,592.8 L814.3,595.0 L814.8,597.2 L815.3,599.4 L815.8,601.6 L816.3,603.7 L816.8,605.8 L817.3,607.9 L817.8,609.9 L818.3,612.0 L818.8,613.9 L819.3,615.9 L819.8,617.8 L820.3,619.6 L820.8,621.5 L821.3,623.2 L821.8,624.9 L822.3,626.6 L822.8,628.1 L823.3,629.7 L823.8,631.1 L824.3,632.5 L824.8,633.9 L825.3,635.2 L825.8,636.4 L826.3,637.5 L826.8,638.6 L827.3,639.6 L827.8,640.6 L828.3,641.4 L828.8,642.3 L829.3,643.0 L829.8,643.7 L830.3,644.2 L830.8,644.8 L831.3,645.2 L831.8,645.6 L832.3,645.9 L832.8,646.1 L833.3,646.3 L833.8,646.4 L834.3,646.4 L834.8,646.4 L835.3,646.3 L835.8,646.1 L836.3,645.9 L836.8,645.6 L837.3,645.2 L837.8,644.7 L838.3,644.2 L838.8,643.6 L839.3,643.0 L839.8,642.3 L840.3,641.5 L840.8,640.6 L841.3,639.7 L841.8,638.7 L842.3,637.6 L842.8,636.5 L843.3,635.3 L843.8,634.0 L844.3,632.7 L844.8,631.3 L845.3,629.8 L845.8,628.3 L846.3,626.7 L846.8,625.1 L847.3,623.4 L847.8,621.7 L848.3,619.9 L848.8,618.1 L849.3,616.2 L849.8,614.4 L850.3,612.4 L850.8,610.5 L851.3,608.5 L851.8,606.6 L852.3,604.5 L852.8,602.5 L853.3,600.5 L853.8,598.4 L854.3,596.4 L854.8,594.3 L855.3,592.2 L855.8,590.1 L856.3,587.9 L856.8,585.8 L857.3,583.6 L857.8,581.4 L858.3,579.2 L858.8,576.9 L859.3,574.6 L859.8,572.3 L860.3,570.0 L860.8,567.6 L861.3,565.2 L861.8,562.7 L862.3,560.3 L862.8,557.7 L863.3,555.2 L863.8,552.7 L864.3,550.1 L864.8,547.5 L865.3,544.8 L865.8,542.2 L866.3,539.5 L866.8,536.8 L867.3,534.0 L867.8,531.3 L868.3,528.5 L868.8,525.7 L869.3,522.9 L869.8,520.1 L870.3,517.2 L870.8,514.4 L871.3,511.5 L871.8,508.6 L872.3,505.7 L872.8,502.8 L873.3,499.9 L873.8,497.0 L874.3,494.2 L874.8,491.3 L875.3,488.4 L875.8,485.6 L876.3,482.7 L876.8,479.9 L877.3,477.1 L877.8,474.3 L878.3,471.5 L878.8,468.8 L879.3,466.1 L879.8,463.4 L880.3,460.8 L880.8,458.2 L881.3,455.6 L881.8,453.0 L882.3,450.5 L882.8,448.1 L883.3,445.6 L883.8,443.2 L884.3,440.8 L884.8,438.4 L885.3,436.0 L885.8,433.7 L886.3,431.3 L886.8,429.0 L887.3,426.7 L887.8,424.4 L888.3,422.1 L888.8,419.8 L889.3,417.5 L889.8,415.3 L890.3,413.0 L890.8,410.8 L891.3,408.5 L891.8,406.2 L892.3,404.0 L892.8,401.7 L893.3,399.5 L893.8,397.2 L894.3,394.9 L894.8,392.7 L895.3,390.4 L895.8,388.1 L896.3,385.8 L896.8,383.6 L897.3,381.3 L897.8,379.1 L898.3,376.8 L898.8,374.6 L899.3,372.3 L899.8,370.1 L900.3,367.9 L900.8,365.8 L901.3,363.6 L901.8,361.5 L902.3,359.4 L902.8,357.3 L903.3,355.3 L903.8,353.3 L904.3,351.3 L904.8,349.3 L905.3,347.4 L905.8,345.6 L906.3,343.7 L906.8,341.9 L907.3,340.2 L907.8,338.5 L908.3,336.9 L908.8,335.3 L909.3,333.8 L909.8,332.3 L910.3,330.9 L910.8,329.6 L911.3,328.2 L911.8,327.0 L912.3,325.7 L912.8,324.6 L913.3,323.4 L913.8,322.4 L914.3,321.4 L914.8,320.4 L915.3,319.4 L915.8,318.5 L916.3,317.7 L916.8,316.8 L917.3,316.0 L917.8,315.3 L918.3,314.6 L918.8,313.9 L919.3,313.3 L919.8,312.7 L920.3,312.1 L920.8,311.6 L921.3,311.1 L921.8,310.6 L922.3,310.1 L922.8,309.7 L923.3,309.2 L923.8,308.8 L924.3,308.3 L924.8,307.8 L925.3,307.4 L925.8,306.9 L926.3,306.4 L926.8,306.0 L927.3,305.7 L927.8,305.4 L928.3,305.2 L928.8,305.1 L929.3,305.0 L929.8,305.0 L930.3,305.1 L930.8,305.1 L931.3,305.2 L931.8,305.2 L932.3,305.3 L932.8,305.4 L933.3,305.4 L933.8,305.5 L934.3,305.6 L934.8,305.7 L935.3,305.8 L935.8,305.9 L936.3,306.1 L936.8,306.2 L937.3,306.4 L937.8,306.5 L938.3,306.7 L938.8,306.9 L939.3,307.2 L939.8,307.4 L940.3,307.7 L940.8,307.9 L941.3,308.2 L941.8,308.5 L942.3,308.8 L942.8,309.1 L943.3,309.4 L943.8,309.7 L944.3,310.1 L944.8,310.5 L945.3,310.9 L945.8,311.3 L946.3,311.8 L946.8,312.3 L947.3,312.8 L947.8,313.3 L948.3,313.9 L948.8,314.5 L949.3,315.1 L949.8,315.8 L950.3,316.5 L950.8,317.2 L951.3,318.0 L951.8,318.9 L952.3,319.8 L952.8,320.8 L953.3,321.8 L953.8,322.8 L954.3,323.9 L954.8,325.0 L955.3,326.2 L955.8,327.5 L956.3,328.8 L956.8,330.1 L957.3,331.5 L957.8,332.9 L958.3,334.4 L958.8,335.9 L959.3,337.4 L959.8,339.0 L960.3,340.7 L960.8,342.4 L961.3,344.1 L961.8,345.8 L962.3,347.5 L962.8,349.3 L963.3,351.0 L963.8,352.6 L964.3,354.3 L964.8,356.0 L965.3,357.6 L965.8,359.3 L966.3,361.0 L966.8,362.7 L967.3,364.5 L967.8,366.3 L968.3,368.1 L968.8,370.0 L969.3,371.9 L969.8,373.9 L970.3,375.9 L970.8,377.9 L971.3,380.0 L971.8,382.1 L972.3,384.2 L972.8,386.3 L973.3,388.5 L973.8,390.7 L974.3,392.9 L974.8,395.1 L975.3,397.3 L975.8,399.6 L976.3,401.9 L976.8,404.2 L977.3,406.6 L977.8,408.9 L978.3,411.3 L978.8,413.7 L979.3,416.1 L979.8,418.5 L980.3,420.9 L980.8,423.3 L981.3,425.8 L981.8,428.3 L982.3,430.8 L982.8,433.3 L983.3,435.8 L983.8,438.3 L984.3,440.8 L984.8,443.3 L985.3,445.9 L985.8,448.4 L986.3,451.0 L986.8,453.5 L987.3,456.1 L987.8,458.6 L988.3,461.2 L988.8,463.8 L989.3,466.4 L989.8,468.9 L990.3,471.5 L990.8,474.1 L991.3,476.7 L991.8,479.2 L992.3,481.8 L992.8,484.4 L993.3,487.0 L993.8,489.7 L994.3,492.3 L994.8,494.9 L995.3,497.6 L995.8,500.2 L996.3,502.9 L996.8,505.6 L997.3,508.3 L997.8,511.1 L998.3,513.8 L998.8,516.6 L999.3,519.4 L999.8,522.3 L1000.3,525.1 L1000.8,528.0 L1001.3,530.9 L1001.8,533.8 L1002.3,536.7 L1002.8,539.6 L1003.3,542.5 L1003.8,545.5 L1004.3,548.4 L1004.8,551.3 L1005.3,554.3 L1005.8,557.2 L1006.3,560.2 L1006.8,563.1 L1007.3,566.0 L1007.8,568.9 L1008.3,571.9 L1008.8,574.8 L1009.3,577.6 L1009.8,580.5 L1010.3,583.4 L1010.8,586.2 L1011.3,589.1 L1011.8,591.9 L1012.3,594.6 L1012.8,597.4 L1013.3,600.1 L1013.8,602.8 L1014.3,605.5 L1014.8,608.2 L1015.3,610.8 L1015.8,613.4 L1016.3,615.9 L1016.8,618.5 L1017.3,620.9 L1017.8,623.4 L1018.3,625.8 L1018.8,628.1 L1019.3,630.4 L1019.8,632.7 L1020.3,634.9 L1020.8,637.1 L1021.3,639.2 L1021.8,641.3 L1022.3,643.3 L1022.8,645.3 L1023.3,647.3 L1023.8,649.2 L1024.3,651.1 L1024.8,652.9 L1025.3,654.8 L1025.8,656.6 L1026.3,658.4 L1026.8,660.2 L1027.3,662.0 L1027.8,663.7 L1028.3,665.5 L1028.8,667.2 L1029.3,668.9 L1029.8,670.6 L1030.3,672.3 L1030.8,673.9 L1031.3,675.6 L1031.8,677.2 L1032.3,678.7 L1032.8,680.3 L1033.3,681.9 L1033.8,683.4 L1034.3,684.9 L1034.8,686.5 L1035.3,688.0 L1035.8,689.5 L1036.3,691.0 L1036.8,692.4 L1037.3,693.8 L1037.8,695.0 L1038.3,696.1 L1038.8,697.1 L1039.3,697.9 L1039.8,698.8 L1040.3,699.5 L1040.8,700.2 L1041.3,700.8 L1041.8,701.4 L1042.3,701.8 L1042.8,702.1 L1043.3,702.3 L1043.8,702.5 L1044.3,702.7 L1044.8,702.8 L1045.3,702.9 L1045.8,703.0 L1046.3,703.1 L1046.8,703.1 L1047.3,703.2 L1047.8,703.2 L1048.3,703.2 L1048.8,703.2 L1049.3,703.1 L1049.8,703.1 L1050.3,703.0 L1050.8,703.0 L1051.3,702.9 L1051.8,702.8 L1052.3,702.7 L1052.8,702.5 L1053.3,702.3 L1053.8,702.0 L1054.3,701.6 L1054.8,701.2 L1055.3,700.6 L1055.8,700.0 L1056.3,699.4 L1056.8,698.7 L1057.3,698.0 L1057.8,697.4 L1058.3,696.6 L1058.8,695.9 L1059.3,695.1 L1059.8,694.3 L1060.3,693.5 L1060.8,692.6 L1061.3,691.6 L1061.8,690.7 L1062.3,689.7 L1062.8,688.7 L1063.3,687.6 L1063.8,686.6 L1064.3,685.5 L1064.8,684.4 L1065.3,683.3 L1065.8,682.2 L1066.3,681.1 L1066.8,679.9 L1067.3,678.7 L1067.8,677.5 L1068.3,676.3 L1068.8,675.0 L1069.3,673.7 L1069.8,672.4 L1070.3,671.1 L1070.8,669.7 L1071.3,668.3 L1071.8,666.8 L1072.3,665.4 L1072.8,663.9 L1073.3,662.3 L1073.8,660.7 L1074.3,659.1 L1074.8,657.4 L1075.3,655.6 L1075.8,653.8 L1076.3,651.9 L1076.8,649.9 L1077.3,647.9 L1077.8,645.9 L1078.3,643.7 L1078.8,641.6 L1079.3,639.4 L1079.8,637.2 L1080.3,634.9 L1080.8,632.7 L1081.3,630.3 L1081.8,627.9 L1082.3,625.5 L1082.8,623.0 L1083.3,620.4 L1083.8,617.9 L1084.3,615.2 L1084.8,612.6 L1085.3,609.8 L1085.8,607.1 L1086.3,604.3 L1086.8,601.5 L1087.3,598.7 L1087.8,595.9 L1088.3,593.0 L1088.8,590.2 L1089.3,587.3 L1089.8,584.4 L1090.3,581.5 L1090.8,578.6 L1091.3,575.8 L1091.8,572.9 L1092.3,570.0 L1092.8,567.2 L1093.3,564.4 L1093.8,561.6 L1094.3,558.8 L1094.8,556.1 L1095.3,553.4 L1095.8,550.8 L1096.3,548.2 L1096.8,545.6 L1097.3,543.1 L1097.8,540.6 L1098.3,538.1 L1098.8,535.7 L1099.3,533.3 L1099.8,531.0 L1100.3,528.6 L1100.8,526.3 L1101.3,524.0 L1101.8,521.7 L1102.3,519.5 L1102.8,517.3 L1103.3,515.1 L1103.8,512.9 L1104.3,510.7 L1104.8,508.6 L1105.3,506.5 L1105.8,504.4 L1106.3,502.3 L1106.8,500.2 L1107.3,498.1 L1107.8,496.1 L1108.3,494.0 L1108.8,492.0 L1109.3,490.0 L1109.8,488.0 L1110.3,486.0 L1110.8,484.1 L1111.3,482.1 L1111.8,480.2 L1112.3,478.2 L1112.8,476.3 L1113.3,474.4 L1113.8,472.4 L1114.3,470.5 L1114.8,468.6 L1115.3,466.8 L1115.8,464.9 L1116.3,463.0 L1116.8,461.1 L1117.3,459.3 L1117.8,457.4 L1118.3,455.6 L1118.8,453.7 L1119.3,451.9 L1119.8,450.1 L1120.3,448.2 L1120.8,446.4 L1121.3,444.6 L1121.8,442.8 L1122.3,441.0 L1122.8,439.1 L1123.3,437.3 L1123.8,435.5 L1124.3,433.7 L1124.8,431.9 L1125.3,430.1 L1125.8,428.3 L1126.3,426.5 L1126.8,424.7 L1127.3,422.9 L1127.8,421.1 L1128.3,419.3 L1128.8,417.5 L1129.3,415.7 L1129.8,413.9 L1130.3,412.1 L1130.8,410.3 L1131.3,408.5 L1131.8,406.8 L1132.3,405.0 L1132.8,403.3 L1133.3,401.6 L1133.8,399.9 L1134.3,398.3 L1134.8,396.6 L1135.3,395.0 L1135.8,393.4 L1136.3,391.9 L1136.8,390.3 L1137.3,388.8 L1137.8,387.3 L1138.3,385.8 L1138.8,384.3 L1139.3,382.9 L1139.8,381.5 L1140.3,380.1 L1140.8,378.8 L1141.3,377.5 L1141.8,376.2 L1142.3,374.9 L1142.8,373.7 L1143.3,372.4 L1143.8,371.3 L1144.3,370.1 L1144.8,368.9 L1145.3,367.8 L1145.8,366.7 L1146.3,365.6 L1146.8,364.6 L1147.3,363.5 L1147.8,362.5 L1148.3,361.5 L1148.8,360.6 L1149.3,359.6 L1149.8,358.7 L1150.3,357.9 L1150.8,357.0 L1151.3,356.2 L1151.8,355.4 L1152.3,354.7 L1152.8,354.0 L1153.3,353.4 L1153.8,352.9 L1154.3,352.5 L1154.8,352.2 L1155.3,351.9 L1155.8,351.6 L1156.3,351.4 L1156.8,351.2 L1157.3,351.0 L1157.8,350.9 L1158.3,350.8 L1158.8,350.7 L1159.3,350.7 L1159.8,350.7 L1160.3,350.8 L1160.8,350.8 L1161.3,350.9 L1161.8,350.9 L1162.3,351.0 L1162.8,351.1 L1163.3,351.2 L1163.8,351.3 L1164.3,351.4 L1164.8,351.6 L1165.3,351.9 L1165.8,352.2 L1166.3,352.6 L1166.8,353.0 L1167.3,353.4 L1167.8,353.9 L1168.3,354.3 L1168.8,354.8 L1169.3,355.2 L1169.8,355.7 L1170.3,356.2 L1170.8,356.7 L1171.3,357.2 L1171.8,357.7 L1172.3,358.3 L1172.8,358.8 L1173.3,359.4 L1173.8,360.0 L1174.3,360.6 L1174.8,361.2 L1175.3,361.8 L1175.8,362.4 L1176.3,363.0 L1176.8,363.6 L1177.3,364.2 L1177.8,364.8 L1178.3,365.3 L1178.8,365.9 L1179.3,366.5 L1179.8,367.0 L1180.3,367.6 L1180.8,368.1 L1181.3,368.6 L1181.8,369.2 L1182.3,369.7 L1182.8,370.2 L1183.3,370.7 L1183.8,371.2 L1184.3,371.6 L1184.8,372.0 L1185.3,372.4 L1185.8,372.7 L1186.3,373.0 L1186.8,373.3 L1187.3,373.6 L1187.8,373.9 L1188.3,374.2 L1188.8,374.6 L1189.3,375.0 L1189.8,375.6 L1190.3,376.3 L1190.8,377.1 L1191.3,378.0 L1191.8,379.0 L1192.3,380.0 L1192.8,381.0 L1193.3,382.1 L1193.8,383.2 L1194.3,384.3 L1194.8,385.5 L1195.3,386.6 L1195.8,387.8 L1196.3,388.9 L1196.8,390.0 L1197.3,391.2 L1197.8,392.3 L1198.3,393.4 L1198.8,394.6 L1199.3,395.8 L1199.8,397.0 L1200.3,398.2 L1200.8,399.4 L1201.3,400.7 L1201.8,402.0 L1202.3,403.3 L1202.8,404.6 L1203.3,406.0 L1203.8,407.4 L1204.3,408.9 L1204.8,410.3 L1205.3,411.9 L1205.8,413.5 L1206.3,415.1 L1206.8,416.8 L1207.3,418.5 L1207.8,420.2 L1208.3,422.0 L1208.8,423.8 L1209.3,425.7 L1209.8,427.6 L1210.3,429.5 L1210.8,431.4 L1211.3,433.4 L1211.8,435.3 L1212.3,437.3 L1212.8,439.4 L1213.3,441.4 L1213.8,443.5 L1214.3,445.6 L1214.8,447.7 L1215.3,449.8 L1215.8,452.0 L1216.3,454.2 L1216.8,456.4 L1217.3,458.6 L1217.8,460.8 L1218.3,463.0 L1218.8,465.3 L1219.3,467.5 L1219.8,469.8 L1220.3,472.1 L1220.8,474.4 L1221.3,476.7 L1221.8,479.0 L1222.3,481.3 L1222.8,483.7 L1223.3,486.0 L1223.8,488.4 L1224.3,490.7 L1224.8,493.1 L1225.3,495.4 L1225.8,497.8 L1226.3,500.2 L1226.8,502.6 L1227.3,504.9 L1227.8,507.3 L1228.3,509.7 L1228.8,512.0 L1229.3,514.4 L1229.8,516.8 L1230.3,519.1 L1230.8,521.5 L1231.3,523.8 L1231.8,526.1 L1232.3,528.5 L1232.8,530.8 L1233.3,533.1 L1233.8,535.4 L1234.3,537.7 L1234.8,540.0 L1235.3,542.2 L1235.8,544.5 L1236.3,546.7 L1236.8,548.9 L1237.3,551.2 L1237.8,553.4 L1238.3,555.6 L1238.8,557.8 L1239.3,560.0 L1239.8,562.2 L1240.3,564.4 L1240.8,566.6 L1241.3,568.8 L1241.8,571.0 L1242.3,573.2 L1242.8,575.4 L1243.3,577.6 L1243.8,579.8 L1244.3,582.1 L1244.8,584.3 L1245.3,586.6 L1245.8,588.8 L1246.3,591.1 L1246.8,593.3 L1247.3,595.6 L1247.8,597.9 L1248.3,600.1 L1248.8,602.4 L1249.3,604.7 L1249.8,606.9 L1250.3,609.2 L1250.8,611.5 L1251.3,613.7 L1251.8,616.0 L1252.3,618.2 L1252.8,620.4 L1253.3,622.6 L1253.8,624.9 L1254.3,627.1 L1254.8,629.2 L1255.3,631.4 L1255.8,633.6 L1256.3,635.7 L1256.8,637.9 L1257.3,640.0 L1257.8,642.1 L1258.3,644.2 L1258.8,646.3 L1259.3,648.3 L1259.8,650.3 L1260.3,652.3 L1260.8,654.3 L1261.3,656.3 L1261.8,658.2 L1262.3,660.1 L1262.8,662.0 L1263.3,663.9 L1263.8,665.7 L1264.3,667.5 L1264.8,669.3 L1265.3,671.1 L1265.8,672.8 L1266.3,674.5 L1266.8,676.1 L1267.3,677.7 L1267.8,679.3 L1268.3,680.9 L1268.8,682.4 L1269.3,683.9 L1269.8,685.3 L1270.3,686.7 L1270.8,688.1 L1271.3,689.4 L1271.8,690.7 L1272.3,692.0 L1272.8,693.3 L1273.3,694.6 L1273.8,695.8 L1274.3,697.1 L1274.8,698.3 L1275.3,699.6 L1275.8,700.8 L1276.3,702.0 L1276.8,703.3 L1277.3,704.5 L1277.8,705.8 L1278.3,707.0 L1278.8,708.3 L1279.3,709.5 L1279.8,710.8 L1280.3,712.0 L1280.8,713.3 L1281.3,714.5 L1281.8,715.7 L1282.3,717.0 L1282.8,718.2 L1283.3,719.4 L1283.8,720.6 L1284.3,721.7 L1284.8,722.9 L1285.3,724.0 L1285.8,725.1 L1286.3,726.2 L1286.8,727.3 L1287.3,728.4 L1287.8,729.4 L1288.3,730.4 L1288.8,731.5 L1289.3,732.5 L1289.8,733.6 L1290.3,734.6 L1290.8,735.6 L1291.3,736.5 L1291.8,737.5 L1292.3,738.4 L1292.8,739.2 L1293.3,740.0 L1293.8,740.7 L1294.3,741.4 L1294.8,742.1 L1295.3,742.7 L1295.8,743.2 L1296.3,743.8 L1296.8,744.3 L1297.3,744.9 L1297.8,745.3 L1298.3,745.8 L1298.8,746.2 L1299.3,746.5 L1299.8,746.7 L1300.3,746.9 L1300.8,747.0 L1301.3,747.0 L1301.8,746.9 L1302.3,746.7 L1302.8,746.4 L1303.3,746.1 L1303.8,745.7 L1304.3,745.3 L1304.8,744.9 L1305.3,744.4 L1305.8,743.9 L1306.3,743.4 L1306.8,742.9 L1307.3,742.4 L1307.8,741.9 L1308.3,741.4 L1308.8,740.9 L1309.3,740.3 L1309.8,739.8 L1310.3,739.2 L1310.8,738.6 L1311.3,738.0 L1311.8,737.3 L1312.3,736.6 L1312.8,735.9 L1313.3,735.2 L1313.8,734.4 L1314.3,733.7 L1314.8,732.9 L1315.3,732.0 L1315.8,731.2 L1316.3,730.3 L1316.8,729.3 L1317.3,728.3 L1317.8,727.3 L1318.3,726.1 L1318.8,724.9 L1319.3,723.6 L1319.8,722.3 L1320.3,720.8 L1320.8,719.4 L1321.3,717.8 L1321.8,716.3 L1322.3,714.7 L1322.8,713.1 L1323.3,711.4 L1323.8,709.8 L1324.3,708.1 L1324.8,706.5 L1325.3,704.8 L1325.8,703.1 L1326.3,701.4 L1326.8,699.7 L1327.3,697.9 L1327.8,696.0 L1328.3,694.2 L1328.8,692.3 L1329.3,690.4 L1329.8,688.5 L1330.3,686.6 L1330.8,684.6 L1331.3,682.7 L1331.8,680.8 L1332.3,678.8 L1332.8,676.9 L1333.3,675.0 L1333.8,673.0 L1334.3,671.1 L1334.8,669.1 L1335.3,667.1 L1335.8,665.1 L1336.3,663.1 L1336.8,661.1 L1337.3,659.1 L1337.8,657.1 L1338.3,655.1 L1338.8,653.1 L1339.3,651.0 L1339.8,649.0 L1340.3,646.9 L1340.8,644.9 L1341.3,642.8 L1341.8,640.8 L1342.3,638.7 L1342.8,636.6 L1343.3,634.6 L1343.8,632.5 L1344.3,630.4 L1344.8,628.4 L1345.3,626.3 L1345.8,624.2 L1346.3,622.1 L1346.8,620.1 L1347.3,618.0 L1347.8,615.9 L1348.3,613.9 L1348.8,611.8 L1349.3,609.7 L1349.8,607.7 L1350.3,605.6 L1350.8,603.6 L1351.3,601.5 L1351.8,599.5 L1352.3,597.4 L1352.8,595.4 L1353.3,593.4 L1353.8,591.4 L1354.3,589.4 L1354.8,587.4 L1355.3,585.4 L1355.8,583.4 L1356.3,581.4 L1356.8,579.5 L1357.3,577.5 L1357.8,575.6 L1358.3,573.7 L1358.8,571.8 L1359.3,569.9 L1359.8,568.0 L1360.3,566.1 L1360.8,564.2 L1361.3,562.4 L1361.8,560.5 L1362.3,558.7 L1362.8,556.8 L1363.3,555.0 L1363.8,553.2 L1364.3,551.3 L1364.8,549.5 L1365.3,547.7 L1365.8,545.9 L1366.3,544.2 L1366.8,542.4 L1367.3,540.6 L1367.8,538.8 L1368.3,537.1 L1368.8,535.3 L1369.3,533.6 L1369.8,531.8 L1370.3,530.1 L1370.8,528.4 L1371.3,526.6 L1371.8,524.9 L1372.3,523.2 L1372.8,521.5 L1373.3,519.8 L1373.8,518.1 L1374.3,516.4 L1374.8,514.7 L1375.3,513.0 L1375.8,511.3 L1376.3,509.7 L1376.8,508.0 L1377.3,506.3 L1377.8,504.6 L1378.3,503.0 L1378.8,501.3 L1379.3,499.6 L1379.8,498.0 L1380.3,496.3 L1380.8,494.7 L1381.3,493.0 L1381.8,491.4 L1382.3,489.7 L1382.8,488.1 L1383.3,486.4 L1383.8,484.8 L1384.3,483.2 L1384.8,481.5 L1385.3,479.9 L1385.8,478.2 L1386.3,476.6 L1386.8,475.0 L1387.3,473.3 L1387.8,471.7 L1388.3,470.0 L1388.8,468.4 L1389.3,466.8 L1389.8,465.1 L1390.3,463.5 L1390.8,461.9 L1391.3,460.2 L1391.8,458.6 L1392.3,456.9 L1392.8,455.3 L1393.3,453.7 L1393.8,452.0 L1394.3,450.4 L1394.8,448.7 L1395.3,447.1 L1395.8,445.4 L1396.3,443.8 L1396.8,442.2 L1397.3,440.6 L1397.8,438.9 L1398.3,437.3 L1398.8,435.7 L1399.3,434.1 L1399.8,432.5 L1400.3,430.9 L1400.8,429.3 L1401.3,427.7 L1401.8,426.2 L1402.3,424.6 L1402.8,423.0 L1403.3,421.4 L1403.8,419.9 L1404.3,418.4 L1404.8,416.9 L1405.3,415.4 L1405.8,414.0 L1406.3,412.7 L1406.8,411.4 L1407.3,410.1 L1407.8,408.8 L1408.3,407.6 L1408.8,406.4 L1409.3,405.2 L1409.8,404.1 L1410.3,403.0 L1410.8,401.9 L1411.3,400.9 L1411.8,399.9 L1412.3,399.0 L1412.8,398.0 L1413.3,397.1 L1413.8,396.2 L1414.3,395.4 L1414.8,394.7 L1415.3,394.1 L1415.8,393.5 L1416.3,392.9 L1416.8,392.4 L1417.3,392.0 L1417.8,391.5 L1418.3,391.1 L1418.8,390.7 L1419.3,390.4 L1419.8,390.0 L1420.3,389.6 L1420.8,389.3 L1421.3,388.9 L1421.8,388.6 L1422.3,388.2 L1422.8,387.8 L1423.3,387.5 L1423.8,387.2 L1424.3,386.9 L1424.8,386.7 L1425.3,386.5 L1425.8,386.3 L1426.3,386.1 L1426.8,385.9 L1427.3,385.8 L1427.8,385.7 L1428.3,385.6 L1428.8,385.5 L1429.3,385.4 L1429.8,385.4 L1430.3,385.4 L1430.8,385.5 L1431.3,385.5 L1431.8,385.6 L1432.3,385.6 L1432.8,385.7 L1433.3,385.8 L1433.8,385.9 L1434.3,385.9 L1434.8,386.0 L1435.3,386.1 L1435.8,386.2 L1436.3,386.3 L1436.8,386.4 L1437.3,386.5 L1437.8,386.6 L1438.3,386.6 L1438.8,386.7 L1439.3,386.8 L1439.8,386.9 L1440.3,387.0 L1440.8,387.1 L1441.3,387.2 L1441.8,387.3 L1442.3,387.5 L1442.8,387.6 L1443.3,387.7 L1443.8,387.9 L1444.3,388.1 L1444.8,388.2 L1445.3,388.5 L1445.8,388.7 L1446.3,388.9 L1446.8,389.2 L1447.3,389.5 L1447.8,389.8 L1448.3,390.2 L1448.8,390.5 L1449.3,390.9 L1449.8,391.3 L1450.3,391.7 L1450.8,392.1 L1451.3,392.6 L1451.8,393.1 L1452.3,393.6 L1452.8,394.1 L1453.3,394.7 L1453.8,395.3 L1454.3,395.8 L1454.8,396.4 L1455.3,397.0 L1455.8,397.6 L1456.3,398.2 L1456.8,398.8 L1457.3,399.5 L1457.8,400.1 L1458.3,400.8 L1458.8,401.4 L1459.3,402.1 L1459.8,402.7 L1460.3,403.4 L1460.8,404.0 L1461.3,404.7 L1461.8,405.3 L1462.3,406.0 L1462.8,406.7 L1463.3,407.3 L1463.8,408.0 L1464.3,408.7 L1464.8,409.4 L1465.3,410.0 L1465.8,410.7 L1466.3,411.4 L1466.8,412.1 L1467.3,412.8 L1467.8,413.5 L1468.3,414.3 L1468.8,415.2 L1469.3,416.1 L1469.8,417.0 L1470.3,418.1 L1470.8,419.2 L1471.3,420.4 L1471.8,421.6 L1472.3,422.8 L1472.8,424.1 L1473.3,425.4 L1473.8,426.7 L1474.3,428.0 L1474.8,429.3 L1475.3,430.5 L1475.8,431.8 L1476.3,433.1 L1476.8,434.3 L1477.3,435.6 L1477.8,436.8 L1478.3,438.1 L1478.8,439.4 L1479.3,440.7 L1479.8,442.0 L1480.3,443.3 L1480.8,444.6 L1481.3,446.0 L1481.8,447.4 L1482.3,448.7 L1482.8,450.2 L1483.3,451.6 L1483.8,453.0 L1484.3,454.5 L1484.8,456.0 L1485.3,457.4 L1485.8,458.9 L1486.3,460.4 L1486.8,461.9 L1487.3,463.4 L1487.8,465.0 L1488.3,466.5 L1488.8,468.1 L1489.3,469.6 L1489.8,471.2 L1490.3,472.8 L1490.8,474.3 L1491.3,475.9 L1491.8,477.5 L1492.3,479.1 L1492.8,480.7 L1493.3,482.4 L1493.8,484.0 L1494.3,485.6 L1494.8,487.3 L1495.3,488.9 L1495.8,490.6 L1496.3,492.3 L1496.8,493.9 L1497.3,495.6 L1497.8,497.3 L1498.3,499.0 L1498.8,500.7 L1499.3,502.4 L1499.8,504.1 L1500.3,505.8 L1500.8,507.5 L1501.3,509.3 L1501.8,511.0 L1502.3,512.7 L1502.8,514.5 L1503.3,516.2 L1503.8,518.0 L1504.3,519.7 L1504.8,521.5 L1505.3,523.2 L1505.8,525.0 L1506.3,526.8 L1506.8,528.5 L1507.3,530.3 L1507.8,532.1 L1508.3,533.9 L1508.8,535.7 L1509.3,537.4 L1509.8,539.2 L1510.3,541.0 L1510.8,542.8 L1511.3,544.6 L1511.8,546.4 L1512.3,548.2 L1512.8,550.0 L1513.3,551.8 L1513.8,553.6 L1514.3,555.4 L1514.8,557.2 L1515.3,559.0 L1515.8,560.8 L1516.3,562.7 L1516.8,564.5 L1517.3,566.3 L1517.8,568.1 L1518.3,569.9 L1518.8,571.7 L1519.3,573.5 L1519.8,575.3 L1520.3,577.2 L1520.8,579.0 L1521.3,580.8 L1521.8,582.7 L1522.3,584.5 L1522.8,586.4 L1523.3,588.3 L1523.8,590.1 L1524.3,592.0 L1524.8,593.9 L1525.3,595.8 L1525.8,597.8 L1526.3,599.7 L1526.8,601.7 L1527.3,603.6 L1527.8,605.6 L1528.3,607.6 L1528.8,609.6 L1529.3,611.6 L1529.8,613.6 L1530.3,615.6 L1530.8,617.7 L1531.3,619.7 L1531.8,621.7 L1532.3,623.8 L1532.8,625.8 L1533.3,627.9 L1533.8,629.9 L1534.3,632.0 L1534.8,634.0 L1535.3,636.0 L1535.8,638.1 L1536.3,640.1 L1536.8,642.2 L1537.3,644.2 L1537.8,646.2 L1538.3,648.2 L1538.8,650.3 L1539.3,652.3 L1539.8,654.3 L1540.3,656.3 L1540.8,658.3 L1541.3,660.2 L1541.8,662.2 L1542.3,664.1 L1542.8,666.1 L1543.3,668.0 L1543.8,669.9 L1544.3,671.8 L1544.8,673.7 L1545.3,675.6 L1545.8,677.4 L1546.3,679.3 L1546.8,681.1 L1547.3,682.9 L1547.8,684.6 L1548.3,686.4 L1548.8,688.1 L1549.3,689.9 L1549.8,691.6 L1550.3,693.2 L1550.8,694.9 L1551.3,696.5 L1551.8,698.1 L1552.3,699.7 L1552.8,701.2 L1553.3,702.7 L1553.8,704.2 L1554.3,705.6 L1554.8,707.0 L1555.3,708.4 L1555.8,709.8 L1556.3,711.2 L1556.8,712.5 L1557.3,713.8 L1557.8,715.1 L1558.3,716.4 L1558.8,717.8 L1559.3,719.1 L1559.8,720.4 L1560.3,721.7 L1560.8,722.9 L1561.3,724.2 L1561.8,725.5 L1562.3,726.8 L1562.8,728.0 L1563.3,729.2 L1563.8,730.5 L1564.3,731.7 L1564.8,732.8 L1565.3,734.0 L1565.8,735.2 L1566.3,736.3 L1566.8,737.4 L1567.3,738.5 L1567.8,739.6 L1568.3,740.7 L1568.8,741.7 L1569.3,742.8 L1569.8,743.8 L1570.3,744.8 L1570.8,745.8 L1571.3,746.7 L1571.8,747.7 L1572.3,748.5 L1572.8,749.4 L1573.3,750.2 L1573.8,751.0 L1574.3,751.7 L1574.8,752.5 L1575.3,753.2 L1575.8,753.9 L1576.3,754.5 L1576.8,755.2 L1577.3,755.8 L1577.8,756.5 L1578.3,757.1 L1578.8,757.7 L1579.3,758.4 L1579.8,759.0 L1580.3,759.6 L1580.8,760.3 L1581.3,760.9 L1581.8,761.6 L1582.3,762.3 L1582.8,762.9 L1583.3,763.5 L1583.8,764.1 L1584.3,764.7 L1584.8,765.3 L1585.3,765.8 L1585.8,766.3 L1586.3,766.8 L1586.8,767.2 L1587.3,767.5 L1587.8,767.9 L1588.3,768.2 L1588.8,768.6 L1589.3,768.9 L1589.8,769.2 L1590.3,769.5 L1590.8,769.8 L1591.3,770.1 L1591.8,770.4 L1592.3,770.6 L1592.8,770.9 L1593.3,771.1 L1593.8,771.3 L1594.3,771.5 L1594.8,771.6 L1595.3,771.8 L1595.8,771.9 L1596.3,771.9 L1596.8,772.0 L1597.3,772.0 L1597.8,772.0 L1598.3,772.0 L1598.8,771.9 L1599.3,771.9 L1599.8,771.8 L1600.3,771.8 L1600.8,771.7 L1601.3,771.6 L1601.8,771.5 L1602.3,771.3 L1602.8,771.2 L1603.3,771.0 L1603.8,770.7 L1604.3,770.5" stroke="#0a0a0a" stroke-width="4.8"/>
</g>
<g stroke="#0a0a0a" stroke-width="3.6" fill="none">
<path d="M126.2,873.51h9.6M1596.5,873.51h-9.6"/>
<path d="M126.2,800.97h19.3M1596.5,800.97h-19.3"/>
<path d="M126.2,728.43h9.6M1596.5,728.43h-9.6"/>
<path d="M126.2,655.90h19.3M1596.5,655.90h-19.3"/>
<path d="M126.2,583.36h9.6M1596.5,583.36h-9.6"/>
<path d="M126.2,510.82h19.3M1596.5,510.82h-19.3"/>
<path d="M126.2,438.28h9.6M1596.5,438.28h-9.6"/>
<path d="M126.2,365.74h19.3M1596.5,365.74h-19.3"/>
<path d="M126.2,293.20h9.6M1596.5,293.20h-9.6"/>
<path d="M126.2,220.67h19.3M1596.5,220.67h-19.3"/>
<path d="M126.2,148.13h9.6M1596.5,148.13h-9.6"/>
<path d="M126.2,75.59h19.3M1596.5,75.59h-19.3"/>
<path d="M236.47,946.05v-9.6M236.47,3.05v9.6"/>
<path d="M420.26,946.05v-19.3M420.26,3.05v19.3"/>
<path d="M604.05,946.05v-9.6M604.05,3.05v9.6"/>
<path d="M787.84,946.05v-19.3M787.84,3.05v19.3"/>
<path d="M971.62,946.05v-9.6M971.62,3.05v9.6"/>
<path d="M1155.41,946.05v-19.3M1155.41,3.05v19.3"/>
<path d="M1339.20,946.05v-9.6M1339.20,3.05v9.6"/>
<path d="M1522.99,946.05v-19.3M1522.99,3.05v19.3"/>
</g>
<path d="M124.4,0.45H1600" stroke="#dedede" stroke-width="0.9" fill="none"/>
<g stroke="#0a0a0a" fill="none" stroke-linecap="square">
<path d="M126.2,3.05H1596.5" stroke-width="3.9"/><path d="M126.2,946.05H1596.5" stroke-width="4.0"/>
<path d="M126.2,3.05V946.05" stroke-width="3.5"/><path d="M1596.5,3.05V946.05" stroke-width="3.2"/>
</g>
<text class="tick" x="105.5" y="955.85" text-anchor="end">0.0</text>
<text class="tick" x="105.5" y="810.77" text-anchor="end">0.1</text>
<text class="tick" x="105.5" y="665.70" text-anchor="end">0.2</text>
<text class="tick" x="105.5" y="520.62" text-anchor="end">0.3</text>
<text class="tick" x="105.5" y="375.54" text-anchor="end">0.4</text>
<text class="tick" x="105.5" y="230.47" text-anchor="end">0.5</text>
<text class="tick" x="105.5" y="85.39" text-anchor="end">0.6</text>
<text class="tick" x="420.26" y="992.5" text-anchor="middle">350</text>
<text class="tick" x="787.84" y="992.5" text-anchor="middle">400</text>
<text class="tick" x="1155.41" y="992.5" text-anchor="middle">450</text>
<text class="tick" x="1522.99" y="992.5" text-anchor="middle">500</text>
<text class="title" x="875" y="1042.3" text-anchor="middle">Wavelength (nm)</text>
<text class="title" transform="translate(29.7,445) rotate(-90)" text-anchor="middle">Reflectance</text>
<path d="M793.3,99H880.0" stroke="#0a0a0a" stroke-width="4.8"/>
<path d="M793.3,144H880.0" stroke="#f1b286" stroke-width="4.9"/>
<text class="leg" x="888.1" y="111.1">Bandwidth corrected reflectance curve</text>
<text class="leg" x="888.1" y="156.1">Measured reflectance curve</text>
</g>
</svg>
</body></html>
